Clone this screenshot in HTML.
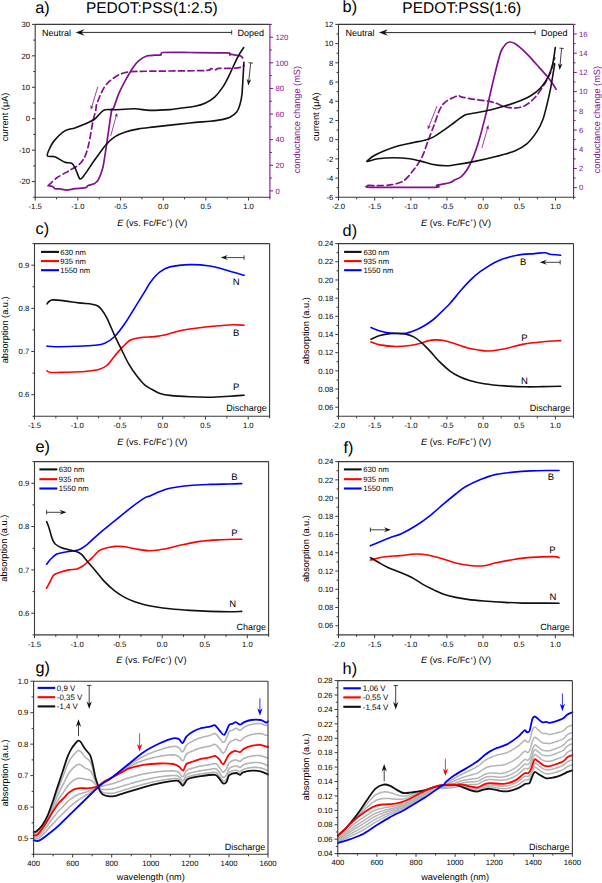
<!DOCTYPE html><html><head><meta charset="utf-8"><style>html,body{margin:0;padding:0;background:#fff;width:602px;height:883px;overflow:hidden}svg{display:block;text-rendering:geometricPrecision}</style></head><body>
<svg width="602" height="883" viewBox="0 0 602 883" font-family='"Liberation Sans", sans-serif'>
<rect width="602" height="883" fill="#fff"/>
<text x="35.2" y="13.1" font-size="16.3" text-anchor="start" fill="#000000" >a)</text>
<text x="151.8" y="13.3" font-size="15.5" text-anchor="middle" fill="#000000" >PEDOT:PSS(1:2.5)</text>
<path d="M49,185.7 C49.45,185.82 52.21,186.35 52.9,186.7 C53.59,187.05 54.07,188.44 54.9,188.7 C55.73,188.96 58.6,188.72 60,188.9 C61.4,189.08 65.16,190.22 66.9,190.2 C68.64,190.18 72.7,188.99 74.9,188.7 C77.11,188.41 84.3,188.05 85.8,187.7 C87.3,187.35 86.75,186.2 87.8,185.7 C88.85,185.2 93.52,184.21 94.8,183.4 C96.08,182.59 97.87,180.62 98.8,178.8 C99.73,176.98 101.98,171.17 102.8,167.8 C103.62,164.43 105.11,154.32 105.8,149.9 C106.49,145.48 108.01,134.56 108.7,129.9 C109.39,125.25 111.12,112.58 111.7,110 C112.28,107.42 112.88,109.69 113.7,107.8 C114.52,105.91 117.3,97.05 118.7,93.8 C120.1,90.55 124.07,82.92 125.7,79.9 C127.33,76.88 131.19,70.12 132.7,67.9 C134.2,65.68 136.98,62.29 138.6,60.9 C140.22,59.51 144.73,56.66 146.6,56 C148.47,55.34 152.92,55.33 154.6,55.2 C156.28,55.07 160.02,55.21 161,54.9 C161.98,54.59 159.63,52.78 163,52.5 C166.37,52.22 182.35,52.45 189.9,52.5 C197.45,52.55 223.06,52.62 227.7,52.9 C232.34,53.18 229.23,54.74 229.7,54.9 C230.17,55.06 230.77,54.23 231.7,54.3 C232.63,54.37 236.65,55.31 237.7,55.5 C238.75,55.69 240.12,55.62 240.7,55.9 C241.28,56.18 242.47,57.67 242.7,57.9" fill="none" stroke="#82108f" stroke-width="1.7" stroke-linejoin="round" stroke-linecap="round" />
<path d="M48,185.7 C49.19,184.65 54.11,179.79 56.9,177.8 C59.69,175.81 65.97,172.53 68.9,170.8 C71.83,169.07 76.78,166.67 78.9,164.8 C81.02,162.93 83.48,159.59 84.8,156.8 C86.12,154.01 87.73,148.54 88.8,143.9 C89.87,139.26 91.87,126.52 92.8,122 C93.73,117.48 95.27,112.43 95.8,110 C96.33,107.57 95.87,106.49 96.8,103.8 C97.73,101.11 101.21,92.72 102.8,89.8 C104.39,86.88 106.58,83.89 108.7,81.9 C110.82,79.91 116.03,76.23 118.7,74.9 C121.37,73.57 124.53,72.39 128.7,71.9 C132.87,71.41 139.83,71.39 150,71.2 C160.17,71.01 196.87,70.85 205,70.5 C213.13,70.15 209.67,68.68 211,68.6 C212.33,68.52 213.93,69.93 215,69.9 C216.07,69.87 216.33,68.63 219,68.4 C221.67,68.17 231.93,68.39 235,68.2 C238.07,68.01 240.8,67.35 242,67 C243.2,66.65 243.73,65.79 244,65.6" fill="none" stroke="#82108f" stroke-width="1.7" stroke-linejoin="round" stroke-linecap="round" stroke-dasharray="6,3.5" stroke-linecap="butt"/>
<path d="M243.7,47.5 C242.98,48.62 240.22,52.69 238.9,55 C237.58,57.31 236.4,59.77 234.9,62.9 C233.4,66.03 230.7,72.3 228.9,75.9 C227.1,79.5 225,83.77 222.9,86.9 C220.8,90.04 217.59,94.34 214.9,96.8 C212.22,99.26 207.99,101.88 205,103.3 C202.01,104.72 198.75,105.55 195,106.3 C191.25,107.05 183.75,107.8 180,108.3 C176.25,108.8 174.5,109.28 170,109.6 C165.5,109.91 155.3,110.52 150,110.4 C144.7,110.28 139.99,108.89 134.7,108.8 C129.41,108.71 119.34,109.59 114.7,109.8 C110.06,110.01 106.78,108.82 103.8,110.2 C100.81,111.58 97.65,116.93 94.8,119 C91.95,121.07 87.78,122.66 84.8,124 C81.81,125.34 77.89,126.87 74.9,127.9 C71.92,128.94 67.9,129.1 64.9,130.9 C61.9,132.7 57.15,137.35 54.9,139.9 C52.65,142.45 51.02,145.52 49.9,147.9 C48.77,150.28 46.65,154.47 47.4,155.8 C48.15,157.14 52.27,155.84 54.9,156.8 C57.52,157.76 62.35,161.21 64.9,162.2 C67.45,163.19 70.25,162.26 71.9,163.4 C73.55,164.54 74.72,167.49 75.9,169.8 C77.09,172.11 78.61,177.9 79.8,178.8 C80.98,179.7 81.55,178.65 83.8,175.8 C86.05,172.95 91.5,164.44 94.8,159.8 C98.1,155.17 102.81,148.34 105.8,144.9 C108.78,141.47 111.87,138.79 114.7,136.9 C117.53,135.01 121.12,133.5 124.7,132.3 C128.28,131.1 134.12,129.71 138.6,128.9 C143.08,128.09 146.91,127.79 154.6,126.9 C162.29,126.02 181.59,123.86 189.9,123 C198.21,122.14 205.19,121.71 210,121.2 C214.81,120.69 219,120.19 222,119.6 C225,119.01 227.76,118.47 230,117.3 C232.24,116.13 235.41,113.67 236.9,111.8 C238.39,109.92 239.15,107.35 239.9,104.8 C240.65,102.25 241.45,98.53 241.9,94.8 C242.35,91.06 242.6,84.76 242.9,79.9 C243.2,75.04 243.75,65.03 243.9,62.4" fill="none" stroke="#111111" stroke-width="1.6" stroke-linejoin="round" stroke-linecap="round" />
<line x1="97.8" y1="86.8" x2="91.72" y2="106.79" stroke="#82108f" stroke-width="0.8"/>
<path d="M90.8,109.8 L90.39,104.97 L91.72,106.79 L93.83,106.02 Z" fill="#82108f"/>
<line x1="110.7" y1="135.9" x2="116.26" y2="115.84" stroke="#82108f" stroke-width="0.8"/>
<path d="M117.1,112.8 L117.63,117.62 L116.26,115.84 L114.16,116.66 Z" fill="#82108f"/>
<line x1="250.7" y1="62.9" x2="248.78" y2="80.88" stroke="#111111" stroke-width="0.8"/>
<path d="M248.3,85.4 L246.7,78.69 L248.78,80.88 L251.28,79.18 Z" fill="#111111"/>
<line x1="252.89" y1="63.13" x2="248.51" y2="62.67" stroke="#111111" stroke-width="0.8"/>
<line x1="231.7" y1="32.4" x2="81" y2="32.4" stroke="#111111" stroke-width="0.9"/>
<path d="M75.6,32.4 L84.6,29.16 L81.45,32.4 L84.6,35.64 Z" fill="#111111"/>
<line x1="231.7" y1="30.2" x2="231.7" y2="34.6" stroke="#111111" stroke-width="0.8"/>
<text x="42" y="35.6" font-size="9" text-anchor="start" fill="#000000" >Neutral</text>
<text x="237.5" y="35.6" font-size="9" text-anchor="start" fill="#000000" >Doped</text>
<line x1="35.2" y1="24.4" x2="269.9" y2="24.4" stroke="#3a3a3a" stroke-width="1.1"/>
<line x1="35.2" y1="23.9" x2="35.2" y2="197.8" stroke="#3a3a3a" stroke-width="1.1"/>
<line x1="34.7" y1="197.3" x2="270.4" y2="197.3" stroke="#3a3a3a" stroke-width="1.1"/>
<line x1="269.9" y1="24.4" x2="269.9" y2="197.8" stroke="#82108f" stroke-width="1.1"/>
<line x1="35.2" y1="197.3" x2="35.2" y2="200.5" stroke="#3a3a3a" stroke-width="1.0"/>
<text x="35.2" y="208.9" font-size="7.7" text-anchor="middle" fill="#000000" >-1.5</text>
<line x1="77.87" y1="197.3" x2="77.87" y2="200.5" stroke="#3a3a3a" stroke-width="1.0"/>
<text x="77.87" y="208.9" font-size="7.7" text-anchor="middle" fill="#000000" >-1.0</text>
<line x1="120.55" y1="197.3" x2="120.55" y2="200.5" stroke="#3a3a3a" stroke-width="1.0"/>
<text x="120.55" y="208.9" font-size="7.7" text-anchor="middle" fill="#000000" >-0.5</text>
<line x1="163.22" y1="197.3" x2="163.22" y2="200.5" stroke="#3a3a3a" stroke-width="1.0"/>
<text x="163.22" y="208.9" font-size="7.7" text-anchor="middle" fill="#000000" >0.0</text>
<line x1="205.89" y1="197.3" x2="205.89" y2="200.5" stroke="#3a3a3a" stroke-width="1.0"/>
<text x="205.89" y="208.9" font-size="7.7" text-anchor="middle" fill="#000000" >0.5</text>
<line x1="248.56" y1="197.3" x2="248.56" y2="200.5" stroke="#3a3a3a" stroke-width="1.0"/>
<text x="248.56" y="208.9" font-size="7.7" text-anchor="middle" fill="#000000" >1.0</text>
<line x1="56.54" y1="197.3" x2="56.54" y2="199.3" stroke="#3a3a3a" stroke-width="1.0"/>
<line x1="99.21" y1="197.3" x2="99.21" y2="199.3" stroke="#3a3a3a" stroke-width="1.0"/>
<line x1="141.88" y1="197.3" x2="141.88" y2="199.3" stroke="#3a3a3a" stroke-width="1.0"/>
<line x1="184.55" y1="197.3" x2="184.55" y2="199.3" stroke="#3a3a3a" stroke-width="1.0"/>
<line x1="227.23" y1="197.3" x2="227.23" y2="199.3" stroke="#3a3a3a" stroke-width="1.0"/>
<line x1="269.9" y1="197.3" x2="269.9" y2="199.3" stroke="#3a3a3a" stroke-width="1.0"/>
<line x1="35.2" y1="181.58" x2="32" y2="181.58" stroke="#3a3a3a" stroke-width="1.0"/>
<text x="30" y="184.28" font-size="7.7" text-anchor="end" fill="#000000" >-20</text>
<line x1="35.2" y1="150.15" x2="32" y2="150.15" stroke="#3a3a3a" stroke-width="1.0"/>
<text x="30" y="152.85" font-size="7.7" text-anchor="end" fill="#000000" >-10</text>
<line x1="35.2" y1="118.71" x2="32" y2="118.71" stroke="#3a3a3a" stroke-width="1.0"/>
<text x="30" y="121.41" font-size="7.7" text-anchor="end" fill="#000000" >0</text>
<line x1="35.2" y1="87.27" x2="32" y2="87.27" stroke="#3a3a3a" stroke-width="1.0"/>
<text x="30" y="89.97" font-size="7.7" text-anchor="end" fill="#000000" >10</text>
<line x1="35.2" y1="55.84" x2="32" y2="55.84" stroke="#3a3a3a" stroke-width="1.0"/>
<text x="30" y="58.54" font-size="7.7" text-anchor="end" fill="#000000" >20</text>
<line x1="35.2" y1="24.4" x2="32" y2="24.4" stroke="#3a3a3a" stroke-width="1.0"/>
<text x="30" y="27.1" font-size="7.7" text-anchor="end" fill="#000000" >30</text>
<line x1="35.2" y1="197.3" x2="33.2" y2="197.3" stroke="#3a3a3a" stroke-width="1.0"/>
<line x1="35.2" y1="165.86" x2="33.2" y2="165.86" stroke="#3a3a3a" stroke-width="1.0"/>
<line x1="35.2" y1="134.43" x2="33.2" y2="134.43" stroke="#3a3a3a" stroke-width="1.0"/>
<line x1="35.2" y1="102.99" x2="33.2" y2="102.99" stroke="#3a3a3a" stroke-width="1.0"/>
<line x1="35.2" y1="71.55" x2="33.2" y2="71.55" stroke="#3a3a3a" stroke-width="1.0"/>
<line x1="35.2" y1="40.12" x2="33.2" y2="40.12" stroke="#3a3a3a" stroke-width="1.0"/>
<line x1="269.9" y1="190.9" x2="273.1" y2="190.9" stroke="#82108f" stroke-width="1.0"/>
<text x="275.4" y="193.6" font-size="7.7" text-anchor="start" fill="#82108f" >0</text>
<line x1="269.9" y1="165.28" x2="273.1" y2="165.28" stroke="#82108f" stroke-width="1.0"/>
<text x="275.4" y="167.98" font-size="7.7" text-anchor="start" fill="#82108f" >20</text>
<line x1="269.9" y1="139.67" x2="273.1" y2="139.67" stroke="#82108f" stroke-width="1.0"/>
<text x="275.4" y="142.37" font-size="7.7" text-anchor="start" fill="#82108f" >40</text>
<line x1="269.9" y1="114.05" x2="273.1" y2="114.05" stroke="#82108f" stroke-width="1.0"/>
<text x="275.4" y="116.75" font-size="7.7" text-anchor="start" fill="#82108f" >60</text>
<line x1="269.9" y1="88.44" x2="273.1" y2="88.44" stroke="#82108f" stroke-width="1.0"/>
<text x="275.4" y="91.14" font-size="7.7" text-anchor="start" fill="#82108f" >80</text>
<line x1="269.9" y1="62.82" x2="273.1" y2="62.82" stroke="#82108f" stroke-width="1.0"/>
<text x="275.4" y="65.52" font-size="7.7" text-anchor="start" fill="#82108f" >100</text>
<line x1="269.9" y1="37.21" x2="273.1" y2="37.21" stroke="#82108f" stroke-width="1.0"/>
<text x="275.4" y="39.91" font-size="7.7" text-anchor="start" fill="#82108f" >120</text>
<line x1="269.9" y1="178.09" x2="271.9" y2="178.09" stroke="#82108f" stroke-width="1.0"/>
<line x1="269.9" y1="152.47" x2="271.9" y2="152.47" stroke="#82108f" stroke-width="1.0"/>
<line x1="269.9" y1="126.86" x2="271.9" y2="126.86" stroke="#82108f" stroke-width="1.0"/>
<line x1="269.9" y1="101.24" x2="271.9" y2="101.24" stroke="#82108f" stroke-width="1.0"/>
<line x1="269.9" y1="75.63" x2="271.9" y2="75.63" stroke="#82108f" stroke-width="1.0"/>
<line x1="269.9" y1="50.01" x2="271.9" y2="50.01" stroke="#82108f" stroke-width="1.0"/>
<line x1="269.9" y1="24.4" x2="271.9" y2="24.4" stroke="#82108f" stroke-width="1.0"/>
<text x="7.8" y="117" font-size="9.2" text-anchor="middle" fill="#000000" transform="rotate(-90 7.8 117)">current (μA)</text>
<text x="299.6" y="119.6" font-size="9.2" text-anchor="middle" fill="#82108f" transform="rotate(-90 299.6 119.6)">conductance change (mS)</text>
<text x="152.3" y="225.8" font-size="9.2" text-anchor="middle" fill="#000000" ><tspan font-style="italic">E</tspan> (vs. Fc/Fc<tspan font-size="5.5" dy="-3.5">+</tspan><tspan dy="3.5">) (V)</tspan></text>
<text x="342.6" y="12.4" font-size="16.3" text-anchor="start" fill="#000000" >b)</text>
<text x="461.8" y="13.3" font-size="15.5" text-anchor="middle" fill="#000000" >PEDOT:PSS(1:6)</text>
<path d="M367.9,185.7 C368.13,185.89 361.99,187.11 369.9,187.3 C377.81,187.49 427.91,187.53 435.7,187.3 C443.49,187.07 435.08,185.83 436.7,185.3 C438.32,184.78 447.47,183.44 449.6,182.8 C451.74,182.16 453.67,180.5 455,179.8 C456.33,179.1 459.6,177.97 461,176.8 C462.4,175.63 465.61,172.02 467,169.8 C468.39,167.58 471.63,160.82 472.9,157.8 C474.17,154.78 476.85,147.16 477.9,143.9 C478.95,140.65 480.85,133.86 481.9,129.9 C482.95,125.95 486.08,113.51 486.9,110 C487.72,106.49 487.97,104.01 488.9,99.8 C489.83,95.59 493.51,79.49 494.9,73.9 C496.29,68.31 499.53,55.39 500.8,51.9 C502.07,48.41 504.75,45.16 505.8,44 C506.85,42.84 508.75,42.05 509.8,42 C510.85,41.95 513.28,42.68 514.8,43.6 C516.32,44.52 520.94,48.23 522.8,49.9 C524.65,51.57 528.85,55.92 530.7,57.9 C532.56,59.88 536.83,64.81 538.7,66.9 C540.57,68.99 545.07,73.83 546.7,75.8 C548.33,77.77 551.6,82.21 552.7,83.8 C553.8,85.39 555.7,88.75 556.1,89.4" fill="none" stroke="#82108f" stroke-width="1.7" stroke-linejoin="round" stroke-linecap="round" />
<path d="M367.9,185.3 C369.4,185.36 374.31,185.79 377.9,185.7 C381.48,185.61 387.92,185.43 391.8,184.7 C395.69,183.97 400.51,183.03 403.8,180.8 C407.09,178.57 411.01,173.25 413.7,169.8 C416.38,166.35 419.6,161.99 421.7,157.8 C423.8,153.62 425.9,146.67 427.7,141.9 C429.5,137.13 431.9,130.83 433.7,126 C435.5,121.17 437.91,113.33 439.7,109.7 C441.49,106.07 442.92,103.88 445.6,101.8 C448.29,99.72 455.29,96.55 457.6,95.8 C459.91,95.05 458.99,96.35 461,96.8 C463.01,97.25 467.42,98.2 471,98.8 C474.58,99.4 481.31,100.2 484.9,100.8 C488.48,101.4 491.91,101.91 494.9,102.8 C497.88,103.69 501.81,105.91 504.8,106.7 C507.79,107.5 511.8,108.25 514.8,108.1 C517.8,107.95 521.81,107.25 524.8,105.7 C527.78,104.16 531.72,101.08 534.7,97.8 C537.69,94.52 542.3,87.69 544.7,83.8 C547.1,79.91 549.2,75.79 550.7,71.9 C552.2,68.02 554.1,60 554.7,57.9" fill="none" stroke="#82108f" stroke-width="1.7" stroke-linejoin="round" stroke-linecap="round" stroke-dasharray="6,3.5" stroke-linecap="butt"/>
<path d="M555.3,47.5 C554.91,49.96 553.69,59.66 552.7,63.9 C551.71,68.14 550.5,72.22 548.7,75.8 C546.9,79.38 543.4,84.8 540.7,87.8 C538,90.8 534.59,93.55 530.7,95.8 C526.82,98.05 520.17,100.86 514.8,102.8 C509.43,104.73 500.88,107.17 494.9,108.7 C488.91,110.23 479.38,112.06 474.9,113 C470.41,113.94 467.99,113.65 465,115 C462.01,116.35 457.91,119.91 455,122 C452.09,124.09 448.8,126.67 445.6,128.9 C442.41,131.14 436.69,135.25 433.7,136.9 C430.71,138.55 428.7,139.06 425.7,139.9 C422.7,140.74 417.88,141.6 413.7,142.5 C409.51,143.4 402.29,144.64 397.8,145.9 C393.31,147.16 387.38,149.41 383.8,150.9 C380.22,152.39 376.44,154.23 373.9,155.8 C371.36,157.38 366.3,160.95 366.9,161.4 C367.5,161.85 373.86,159.34 377.9,158.8 C381.94,158.26 389.01,157.8 393.8,157.8 C398.59,157.8 405.62,158.26 409.8,158.8 C413.99,159.34 418.41,160.59 421.7,161.4 C424.99,162.21 428.12,163.54 431.7,164.2 C435.28,164.86 442.11,165.71 445.6,165.8 C449.1,165.89 450.61,165.46 455,164.8 C459.39,164.14 468.91,162.6 474.9,161.4 C480.88,160.2 488.91,158.38 494.9,156.8 C500.88,155.23 510.01,152.84 514.8,150.9 C519.58,148.97 523.51,146.75 526.8,143.9 C530.08,141.05 534.32,135.49 536.7,131.9 C539.09,128.31 541.2,123.93 542.7,120 C544.2,116.07 545.5,110.53 546.7,105.7 C547.9,100.87 549.5,94.07 550.7,87.8 C551.9,81.53 554.1,67.48 554.7,63.9" fill="none" stroke="#111111" stroke-width="1.6" stroke-linejoin="round" stroke-linecap="round" />
<line x1="437" y1="106" x2="428.86" y2="126.57" stroke="#82108f" stroke-width="0.8"/>
<path d="M427.7,129.5 L427.68,124.65 L428.86,126.57 L431.03,125.98 Z" fill="#82108f"/>
<line x1="481.9" y1="147.9" x2="487.63" y2="128.03" stroke="#82108f" stroke-width="0.8"/>
<path d="M488.5,125 L488.98,129.82 L487.63,128.03 L485.52,128.83 Z" fill="#82108f"/>
<line x1="561.6" y1="48.3" x2="560.02" y2="65.37" stroke="#111111" stroke-width="0.8"/>
<path d="M559.6,69.9 L557.91,63.22 L560.02,65.37 L562.49,63.64 Z" fill="#111111"/>
<line x1="563.79" y1="48.5" x2="559.41" y2="48.1" stroke="#111111" stroke-width="0.8"/>
<line x1="535.1" y1="32.6" x2="384.3" y2="32.6" stroke="#111111" stroke-width="0.9"/>
<path d="M378.9,32.6 L387.9,29.36 L384.75,32.6 L387.9,35.84 Z" fill="#111111"/>
<line x1="535.1" y1="30.4" x2="535.1" y2="34.8" stroke="#111111" stroke-width="0.8"/>
<text x="345.6" y="35.6" font-size="9" text-anchor="start" fill="#000000" >Neutral</text>
<text x="541.1" y="35.6" font-size="9" text-anchor="start" fill="#000000" >Doped</text>
<line x1="338.5" y1="24.4" x2="573.6" y2="24.4" stroke="#3a3a3a" stroke-width="1.1"/>
<line x1="338.5" y1="23.9" x2="338.5" y2="197.8" stroke="#3a3a3a" stroke-width="1.1"/>
<line x1="338" y1="197.3" x2="574.1" y2="197.3" stroke="#3a3a3a" stroke-width="1.1"/>
<line x1="573.6" y1="24.4" x2="573.6" y2="197.8" stroke="#82108f" stroke-width="1.1"/>
<line x1="338.5" y1="197.3" x2="338.5" y2="200.5" stroke="#3a3a3a" stroke-width="1.0"/>
<text x="338.5" y="208.9" font-size="7.7" text-anchor="middle" fill="#000000" >-2.0</text>
<line x1="374.67" y1="197.3" x2="374.67" y2="200.5" stroke="#3a3a3a" stroke-width="1.0"/>
<text x="374.67" y="208.9" font-size="7.7" text-anchor="middle" fill="#000000" >-1.5</text>
<line x1="410.84" y1="197.3" x2="410.84" y2="200.5" stroke="#3a3a3a" stroke-width="1.0"/>
<text x="410.84" y="208.9" font-size="7.7" text-anchor="middle" fill="#000000" >-1.0</text>
<line x1="447.01" y1="197.3" x2="447.01" y2="200.5" stroke="#3a3a3a" stroke-width="1.0"/>
<text x="447.01" y="208.9" font-size="7.7" text-anchor="middle" fill="#000000" >-0.5</text>
<line x1="483.18" y1="197.3" x2="483.18" y2="200.5" stroke="#3a3a3a" stroke-width="1.0"/>
<text x="483.18" y="208.9" font-size="7.7" text-anchor="middle" fill="#000000" >0.0</text>
<line x1="519.35" y1="197.3" x2="519.35" y2="200.5" stroke="#3a3a3a" stroke-width="1.0"/>
<text x="519.35" y="208.9" font-size="7.7" text-anchor="middle" fill="#000000" >0.5</text>
<line x1="555.52" y1="197.3" x2="555.52" y2="200.5" stroke="#3a3a3a" stroke-width="1.0"/>
<text x="555.52" y="208.9" font-size="7.7" text-anchor="middle" fill="#000000" >1.0</text>
<line x1="356.58" y1="197.3" x2="356.58" y2="199.3" stroke="#3a3a3a" stroke-width="1.0"/>
<line x1="392.75" y1="197.3" x2="392.75" y2="199.3" stroke="#3a3a3a" stroke-width="1.0"/>
<line x1="428.92" y1="197.3" x2="428.92" y2="199.3" stroke="#3a3a3a" stroke-width="1.0"/>
<line x1="465.09" y1="197.3" x2="465.09" y2="199.3" stroke="#3a3a3a" stroke-width="1.0"/>
<line x1="501.26" y1="197.3" x2="501.26" y2="199.3" stroke="#3a3a3a" stroke-width="1.0"/>
<line x1="537.43" y1="197.3" x2="537.43" y2="199.3" stroke="#3a3a3a" stroke-width="1.0"/>
<line x1="573.6" y1="197.3" x2="573.6" y2="199.3" stroke="#3a3a3a" stroke-width="1.0"/>
<line x1="338.5" y1="197.3" x2="335.3" y2="197.3" stroke="#3a3a3a" stroke-width="1.0"/>
<text x="333.3" y="200" font-size="7.7" text-anchor="end" fill="#000000" >-6</text>
<line x1="338.5" y1="178.09" x2="335.3" y2="178.09" stroke="#3a3a3a" stroke-width="1.0"/>
<text x="333.3" y="180.79" font-size="7.7" text-anchor="end" fill="#000000" >-4</text>
<line x1="338.5" y1="158.88" x2="335.3" y2="158.88" stroke="#3a3a3a" stroke-width="1.0"/>
<text x="333.3" y="161.58" font-size="7.7" text-anchor="end" fill="#000000" >-2</text>
<line x1="338.5" y1="139.67" x2="335.3" y2="139.67" stroke="#3a3a3a" stroke-width="1.0"/>
<text x="333.3" y="142.37" font-size="7.7" text-anchor="end" fill="#000000" >0</text>
<line x1="338.5" y1="120.46" x2="335.3" y2="120.46" stroke="#3a3a3a" stroke-width="1.0"/>
<text x="333.3" y="123.16" font-size="7.7" text-anchor="end" fill="#000000" >2</text>
<line x1="338.5" y1="101.24" x2="335.3" y2="101.24" stroke="#3a3a3a" stroke-width="1.0"/>
<text x="333.3" y="103.94" font-size="7.7" text-anchor="end" fill="#000000" >4</text>
<line x1="338.5" y1="82.03" x2="335.3" y2="82.03" stroke="#3a3a3a" stroke-width="1.0"/>
<text x="333.3" y="84.73" font-size="7.7" text-anchor="end" fill="#000000" >6</text>
<line x1="338.5" y1="62.82" x2="335.3" y2="62.82" stroke="#3a3a3a" stroke-width="1.0"/>
<text x="333.3" y="65.52" font-size="7.7" text-anchor="end" fill="#000000" >8</text>
<line x1="338.5" y1="43.61" x2="335.3" y2="43.61" stroke="#3a3a3a" stroke-width="1.0"/>
<text x="333.3" y="46.31" font-size="7.7" text-anchor="end" fill="#000000" >10</text>
<line x1="338.5" y1="24.4" x2="335.3" y2="24.4" stroke="#3a3a3a" stroke-width="1.0"/>
<text x="333.3" y="27.1" font-size="7.7" text-anchor="end" fill="#000000" >12</text>
<line x1="338.5" y1="187.69" x2="336.5" y2="187.69" stroke="#3a3a3a" stroke-width="1.0"/>
<line x1="338.5" y1="168.48" x2="336.5" y2="168.48" stroke="#3a3a3a" stroke-width="1.0"/>
<line x1="338.5" y1="149.27" x2="336.5" y2="149.27" stroke="#3a3a3a" stroke-width="1.0"/>
<line x1="338.5" y1="130.06" x2="336.5" y2="130.06" stroke="#3a3a3a" stroke-width="1.0"/>
<line x1="338.5" y1="110.85" x2="336.5" y2="110.85" stroke="#3a3a3a" stroke-width="1.0"/>
<line x1="338.5" y1="91.64" x2="336.5" y2="91.64" stroke="#3a3a3a" stroke-width="1.0"/>
<line x1="338.5" y1="72.43" x2="336.5" y2="72.43" stroke="#3a3a3a" stroke-width="1.0"/>
<line x1="338.5" y1="53.22" x2="336.5" y2="53.22" stroke="#3a3a3a" stroke-width="1.0"/>
<line x1="338.5" y1="34.01" x2="336.5" y2="34.01" stroke="#3a3a3a" stroke-width="1.0"/>
<line x1="573.6" y1="187.69" x2="576.8" y2="187.69" stroke="#82108f" stroke-width="1.0"/>
<text x="579.1" y="190.39" font-size="7.7" text-anchor="start" fill="#82108f" >0</text>
<line x1="573.6" y1="168.48" x2="576.8" y2="168.48" stroke="#82108f" stroke-width="1.0"/>
<text x="579.1" y="171.18" font-size="7.7" text-anchor="start" fill="#82108f" >2</text>
<line x1="573.6" y1="149.27" x2="576.8" y2="149.27" stroke="#82108f" stroke-width="1.0"/>
<text x="579.1" y="151.97" font-size="7.7" text-anchor="start" fill="#82108f" >4</text>
<line x1="573.6" y1="130.06" x2="576.8" y2="130.06" stroke="#82108f" stroke-width="1.0"/>
<text x="579.1" y="132.76" font-size="7.7" text-anchor="start" fill="#82108f" >6</text>
<line x1="573.6" y1="110.85" x2="576.8" y2="110.85" stroke="#82108f" stroke-width="1.0"/>
<text x="579.1" y="113.55" font-size="7.7" text-anchor="start" fill="#82108f" >8</text>
<line x1="573.6" y1="91.64" x2="576.8" y2="91.64" stroke="#82108f" stroke-width="1.0"/>
<text x="579.1" y="94.34" font-size="7.7" text-anchor="start" fill="#82108f" >10</text>
<line x1="573.6" y1="72.43" x2="576.8" y2="72.43" stroke="#82108f" stroke-width="1.0"/>
<text x="579.1" y="75.13" font-size="7.7" text-anchor="start" fill="#82108f" >12</text>
<line x1="573.6" y1="53.22" x2="576.8" y2="53.22" stroke="#82108f" stroke-width="1.0"/>
<text x="579.1" y="55.92" font-size="7.7" text-anchor="start" fill="#82108f" >14</text>
<line x1="573.6" y1="34.01" x2="576.8" y2="34.01" stroke="#82108f" stroke-width="1.0"/>
<text x="579.1" y="36.71" font-size="7.7" text-anchor="start" fill="#82108f" >16</text>
<line x1="573.6" y1="197.3" x2="575.6" y2="197.3" stroke="#82108f" stroke-width="1.0"/>
<line x1="573.6" y1="178.09" x2="575.6" y2="178.09" stroke="#82108f" stroke-width="1.0"/>
<line x1="573.6" y1="158.88" x2="575.6" y2="158.88" stroke="#82108f" stroke-width="1.0"/>
<line x1="573.6" y1="139.67" x2="575.6" y2="139.67" stroke="#82108f" stroke-width="1.0"/>
<line x1="573.6" y1="120.46" x2="575.6" y2="120.46" stroke="#82108f" stroke-width="1.0"/>
<line x1="573.6" y1="101.24" x2="575.6" y2="101.24" stroke="#82108f" stroke-width="1.0"/>
<line x1="573.6" y1="82.03" x2="575.6" y2="82.03" stroke="#82108f" stroke-width="1.0"/>
<line x1="573.6" y1="62.82" x2="575.6" y2="62.82" stroke="#82108f" stroke-width="1.0"/>
<line x1="573.6" y1="43.61" x2="575.6" y2="43.61" stroke="#82108f" stroke-width="1.0"/>
<line x1="573.6" y1="24.4" x2="575.6" y2="24.4" stroke="#82108f" stroke-width="1.0"/>
<text x="318.8" y="116.7" font-size="9.2" text-anchor="middle" fill="#000000" transform="rotate(-90 318.8 116.7)">current (μA)</text>
<text x="599.7" y="119.6" font-size="9.2" text-anchor="middle" fill="#82108f" transform="rotate(-90 599.7 119.6)">conductance change (mS)</text>
<text x="456" y="225.8" font-size="9.2" text-anchor="middle" fill="#000000" ><tspan font-style="italic">E</tspan> (vs. Fc/Fc<tspan font-size="5.5" dy="-3.5">+</tspan><tspan dy="3.5">) (V)</tspan></text>
<text x="35.5" y="234.3" font-size="16.3" text-anchor="start" fill="#000000" >c)</text>
<path d="M47,370.9 C47.67,371.17 48.02,372.27 51,372.5 C53.98,372.73 59.27,372.47 64.9,372.3 C70.53,372.13 79.15,371.97 84.8,371.5 C90.45,371.03 95.13,370.5 98.8,369.5 C102.47,368.5 104.15,367.77 106.8,365.5 C109.45,363.23 112.05,359 114.7,355.9 C117.35,352.8 120.03,349.55 122.7,346.9 C125.37,344.25 127.72,341.55 130.7,340 C133.68,338.45 136.62,338.17 140.6,337.6 C144.58,337.03 150.38,337.08 154.6,336.6 C158.82,336.12 161.68,335.68 165.9,334.7 C170.12,333.72 174.25,331.87 179.9,330.7 C185.55,329.53 193.15,328.53 199.8,327.7 C206.45,326.87 214.15,326.2 219.8,325.7 C225.45,325.2 229.65,324.77 233.7,324.7 C237.75,324.63 242.37,325.2 244.1,325.3" fill="none" stroke="#ff0000" stroke-width="1.6" stroke-linejoin="round" stroke-linecap="round" />
<path d="M47,346.1 C48.32,346.2 50.25,346.67 54.9,346.7 C59.55,346.73 68.25,346.53 74.9,346.3 C81.55,346.07 89.82,345.82 94.8,345.3 C99.78,344.78 101.48,344.67 104.8,343.2 C108.12,341.73 111.38,339.73 114.7,336.5 C118.02,333.27 121.37,328.58 124.7,323.8 C128.03,319.02 131.38,313.12 134.7,307.8 C138.02,302.48 141.95,296.22 144.6,291.9 C147.25,287.58 148.03,285.23 150.6,281.9 C153.17,278.57 156.78,274.4 160,271.9 C163.22,269.4 164.92,268.12 169.9,266.9 C174.88,265.68 183.25,264.75 189.9,264.6 C196.55,264.45 203.83,265.12 209.8,266 C215.77,266.88 219.98,268.35 225.7,269.9 C231.42,271.45 241.03,274.4 244.1,275.3" fill="none" stroke="#0000ff" stroke-width="1.6" stroke-linejoin="round" stroke-linecap="round" />
<path d="M47,303.9 C47.33,303.5 48.02,302.17 49,301.5 C49.98,300.83 50.25,300 52.9,299.9 C55.55,299.8 60.57,300.4 64.9,300.9 C69.23,301.4 74.38,302.35 78.9,302.9 C83.42,303.45 88.9,303.72 92,304.2 C95.1,304.68 95.92,304.92 97.5,305.8 C99.08,306.68 99.95,307.5 101.5,309.5 C103.05,311.5 104.6,313.43 106.8,317.8 C109,322.17 112.38,330.68 114.7,335.7 C117.02,340.72 118.37,343.2 120.7,347.9 C123.03,352.6 126.03,359.25 128.7,363.9 C131.37,368.55 134.05,372.32 136.7,375.8 C139.35,379.28 141.62,382.3 144.6,384.8 C147.58,387.3 152.03,389.37 154.6,390.8 C157.17,392.23 157.45,392.63 160,393.4 C162.55,394.17 164.92,394.83 169.9,395.4 C174.88,395.97 183.25,396.5 189.9,396.8 C196.55,397.1 203.17,397.3 209.8,397.2 C216.43,397.1 223.98,396.53 229.7,396.2 C235.42,395.87 241.7,395.37 244.1,395.2" fill="none" stroke="#111111" stroke-width="1.6" stroke-linejoin="round" stroke-linecap="round" />
<line x1="41" y1="251.9" x2="59" y2="251.9" stroke="#111111" stroke-width="2.1"/>
<text x="60.2" y="254.6" font-size="7.7" text-anchor="start" fill="#000000" >630 nm</text>
<line x1="41" y1="261.1" x2="59" y2="261.1" stroke="#ff0000" stroke-width="2.1"/>
<text x="60.2" y="263.8" font-size="7.7" text-anchor="start" fill="#000000" >935 nm</text>
<line x1="41" y1="270.2" x2="59" y2="270.2" stroke="#0000ff" stroke-width="2.1"/>
<text x="60.2" y="272.9" font-size="7.7" text-anchor="start" fill="#000000" >1550 nm</text>
<line x1="244.1" y1="257.6" x2="225" y2="257.6" stroke="#111111" stroke-width="0.8"/>
<path d="M220.8,257.6 L227.8,255.08 L225.35,257.6 L227.8,260.12 Z" fill="#111111"/>
<line x1="244.1" y1="255.4" x2="244.1" y2="259.8" stroke="#111111" stroke-width="0.8"/>
<text x="236.1" y="285.3" font-size="9.5" text-anchor="middle" fill="#000000" >N</text>
<text x="236.1" y="336.4" font-size="9.5" text-anchor="middle" fill="#000000" >B</text>
<text x="236.1" y="390.2" font-size="9.5" text-anchor="middle" fill="#000000" >P</text>
<text x="266.8" y="411.1" font-size="9" text-anchor="end" fill="#000000" >Discharge</text>
<line x1="34.5" y1="243.6" x2="269.6" y2="243.6" stroke="#3a3a3a" stroke-width="1.1"/>
<line x1="34.5" y1="243.1" x2="34.5" y2="416.8" stroke="#3a3a3a" stroke-width="1.1"/>
<line x1="34" y1="416.3" x2="270.1" y2="416.3" stroke="#3a3a3a" stroke-width="1.1"/>
<line x1="269.6" y1="243.6" x2="269.6" y2="416.3" stroke="#3a3a3a" stroke-width="1.1"/>
<line x1="34.5" y1="416.3" x2="34.5" y2="419.5" stroke="#3a3a3a" stroke-width="1.0"/>
<text x="34.5" y="427.9" font-size="7.7" text-anchor="middle" fill="#000000" >-1.5</text>
<line x1="77.25" y1="416.3" x2="77.25" y2="419.5" stroke="#3a3a3a" stroke-width="1.0"/>
<text x="77.25" y="427.9" font-size="7.7" text-anchor="middle" fill="#000000" >-1.0</text>
<line x1="119.99" y1="416.3" x2="119.99" y2="419.5" stroke="#3a3a3a" stroke-width="1.0"/>
<text x="119.99" y="427.9" font-size="7.7" text-anchor="middle" fill="#000000" >-0.5</text>
<line x1="162.74" y1="416.3" x2="162.74" y2="419.5" stroke="#3a3a3a" stroke-width="1.0"/>
<text x="162.74" y="427.9" font-size="7.7" text-anchor="middle" fill="#000000" >0.0</text>
<line x1="205.48" y1="416.3" x2="205.48" y2="419.5" stroke="#3a3a3a" stroke-width="1.0"/>
<text x="205.48" y="427.9" font-size="7.7" text-anchor="middle" fill="#000000" >0.5</text>
<line x1="248.23" y1="416.3" x2="248.23" y2="419.5" stroke="#3a3a3a" stroke-width="1.0"/>
<text x="248.23" y="427.9" font-size="7.7" text-anchor="middle" fill="#000000" >1.0</text>
<line x1="55.87" y1="416.3" x2="55.87" y2="418.3" stroke="#3a3a3a" stroke-width="1.0"/>
<line x1="98.62" y1="416.3" x2="98.62" y2="418.3" stroke="#3a3a3a" stroke-width="1.0"/>
<line x1="141.36" y1="416.3" x2="141.36" y2="418.3" stroke="#3a3a3a" stroke-width="1.0"/>
<line x1="184.11" y1="416.3" x2="184.11" y2="418.3" stroke="#3a3a3a" stroke-width="1.0"/>
<line x1="226.85" y1="416.3" x2="226.85" y2="418.3" stroke="#3a3a3a" stroke-width="1.0"/>
<line x1="269.6" y1="416.3" x2="269.6" y2="418.3" stroke="#3a3a3a" stroke-width="1.0"/>
<line x1="34.5" y1="394.71" x2="31.3" y2="394.71" stroke="#3a3a3a" stroke-width="1.0"/>
<text x="29.3" y="397.41" font-size="7.7" text-anchor="end" fill="#000000" >0.6</text>
<line x1="34.5" y1="351.54" x2="31.3" y2="351.54" stroke="#3a3a3a" stroke-width="1.0"/>
<text x="29.3" y="354.24" font-size="7.7" text-anchor="end" fill="#000000" >0.7</text>
<line x1="34.5" y1="308.36" x2="31.3" y2="308.36" stroke="#3a3a3a" stroke-width="1.0"/>
<text x="29.3" y="311.06" font-size="7.7" text-anchor="end" fill="#000000" >0.8</text>
<line x1="34.5" y1="265.19" x2="31.3" y2="265.19" stroke="#3a3a3a" stroke-width="1.0"/>
<text x="29.3" y="267.89" font-size="7.7" text-anchor="end" fill="#000000" >0.9</text>
<line x1="34.5" y1="416.3" x2="32.5" y2="416.3" stroke="#3a3a3a" stroke-width="1.0"/>
<line x1="34.5" y1="373.12" x2="32.5" y2="373.12" stroke="#3a3a3a" stroke-width="1.0"/>
<line x1="34.5" y1="329.95" x2="32.5" y2="329.95" stroke="#3a3a3a" stroke-width="1.0"/>
<line x1="34.5" y1="286.77" x2="32.5" y2="286.77" stroke="#3a3a3a" stroke-width="1.0"/>
<line x1="34.5" y1="243.6" x2="32.5" y2="243.6" stroke="#3a3a3a" stroke-width="1.0"/>
<text x="7.8" y="329.9" font-size="9.2" text-anchor="middle" fill="#000000" transform="rotate(-90 7.8 329.9)">absorption (a.u.)</text>
<text x="152.3" y="444.8" font-size="9.2" text-anchor="middle" fill="#000000" ><tspan font-style="italic">E</tspan> (vs. Fc/Fc<tspan font-size="5.5" dy="-3.5">+</tspan><tspan dy="3.5">) (V)</tspan></text>
<text x="342.6" y="236.3" font-size="16.3" text-anchor="start" fill="#000000" >d)</text>
<path d="M371,341.9 C372.48,342.4 375.75,344.13 379.9,344.9 C384.05,345.67 390.92,346.4 395.9,346.5 C400.88,346.6 405.82,346 409.8,345.5 C413.78,345 416.8,344.27 419.8,343.5 C422.8,342.73 425.15,341.5 427.8,340.9 C430.45,340.3 433.05,339.97 435.7,339.9 C438.35,339.83 440.37,339.83 443.7,340.5 C447.03,341.17 451.72,342.67 455.7,343.9 C459.68,345.13 463.77,346.88 467.6,347.9 C471.43,348.92 475.1,349.48 478.7,350 C482.3,350.52 484.83,351.2 489.2,351 C493.57,350.8 499.38,349.9 504.9,348.8 C510.42,347.7 515.9,345.57 522.3,344.4 C528.7,343.23 536.9,342.43 543.3,341.8 C549.7,341.17 557.8,340.8 560.7,340.6" fill="none" stroke="#ff0000" stroke-width="1.6" stroke-linejoin="round" stroke-linecap="round" />
<path d="M371,327.6 C372.48,328.17 376.75,330.1 379.9,331 C383.05,331.9 385.9,332.57 389.9,333 C393.9,333.43 399.58,334.1 403.9,333.6 C408.22,333.1 412.48,331.27 415.8,330 C419.12,328.73 420.97,327.67 423.8,326 C426.63,324.33 430.15,322.05 432.8,320 C435.45,317.95 436.88,316.4 439.7,313.7 C442.52,311 446.37,307.45 449.7,303.8 C453.03,300.15 456.38,295.62 459.7,291.8 C463.02,287.98 466.13,284.3 469.6,280.9 C473.07,277.5 475.78,274.73 480.5,271.4 C485.22,268.07 491.8,263.58 497.9,260.9 C504,258.22 511,256.52 517.1,255.3 C523.2,254.08 529.85,254.03 534.5,253.6 C539.15,253.17 542.38,252.58 545,252.7 C547.62,252.82 547.58,253.88 550.2,254.3 C552.82,254.72 558.95,255.05 560.7,255.2" fill="none" stroke="#0000ff" stroke-width="1.6" stroke-linejoin="round" stroke-linecap="round" />
<path d="M371,339.3 C372.48,338.67 376.75,336.45 379.9,335.5 C383.05,334.55 385.9,333.92 389.9,333.6 C393.9,333.28 399.92,333.05 403.9,333.6 C407.88,334.15 410.82,335.35 413.8,336.9 C416.78,338.45 419.13,340.57 421.8,342.9 C424.47,345.23 426.82,347.73 429.8,350.9 C432.78,354.07 436.38,358.58 439.7,361.9 C443.02,365.22 446.37,368.32 449.7,370.8 C453.03,373.28 456.38,375.2 459.7,376.8 C463.02,378.4 465.55,379.25 469.6,380.4 C473.65,381.55 478.12,382.78 484,383.7 C489.88,384.62 497.93,385.38 504.9,385.9 C511.87,386.42 519.4,386.68 525.8,386.8 C532.2,386.92 537.48,386.68 543.3,386.6 C549.12,386.52 557.8,386.35 560.7,386.3" fill="none" stroke="#111111" stroke-width="1.6" stroke-linejoin="round" stroke-linecap="round" />
<line x1="344.1" y1="251.9" x2="361.6" y2="251.9" stroke="#111111" stroke-width="2.1"/>
<text x="363.4" y="254.6" font-size="7.7" text-anchor="start" fill="#000000" >630 nm</text>
<line x1="344.1" y1="261.1" x2="361.6" y2="261.1" stroke="#ff0000" stroke-width="2.1"/>
<text x="363.4" y="263.8" font-size="7.7" text-anchor="start" fill="#000000" >935 nm</text>
<line x1="344.1" y1="270.2" x2="361.6" y2="270.2" stroke="#0000ff" stroke-width="2.1"/>
<text x="363.4" y="272.9" font-size="7.7" text-anchor="start" fill="#000000" >1550 nm</text>
<line x1="560.2" y1="262.3" x2="544" y2="262.3" stroke="#111111" stroke-width="0.8"/>
<path d="M539.8,262.3 L546.8,259.78 L544.35,262.3 L546.8,264.82 Z" fill="#111111"/>
<line x1="560.2" y1="260.1" x2="560.2" y2="264.5" stroke="#111111" stroke-width="0.8"/>
<text x="523.2" y="265.2" font-size="9.5" text-anchor="middle" fill="#000000" >B</text>
<text x="524.4" y="340.8" font-size="9.5" text-anchor="middle" fill="#000000" >P</text>
<text x="524.4" y="384.4" font-size="9.5" text-anchor="middle" fill="#000000" >N</text>
<text x="570.3" y="411.1" font-size="9" text-anchor="end" fill="#000000" >Discharge</text>
<line x1="338.5" y1="243.6" x2="573.5" y2="243.6" stroke="#3a3a3a" stroke-width="1.1"/>
<line x1="338.5" y1="243.1" x2="338.5" y2="416.8" stroke="#3a3a3a" stroke-width="1.1"/>
<line x1="338" y1="416.3" x2="574" y2="416.3" stroke="#3a3a3a" stroke-width="1.1"/>
<line x1="573.5" y1="243.6" x2="573.5" y2="416.3" stroke="#3a3a3a" stroke-width="1.1"/>
<line x1="338.5" y1="416.3" x2="338.5" y2="419.5" stroke="#3a3a3a" stroke-width="1.0"/>
<text x="338.5" y="427.9" font-size="7.7" text-anchor="middle" fill="#000000" >-2.0</text>
<line x1="374.65" y1="416.3" x2="374.65" y2="419.5" stroke="#3a3a3a" stroke-width="1.0"/>
<text x="374.65" y="427.9" font-size="7.7" text-anchor="middle" fill="#000000" >-1.5</text>
<line x1="410.81" y1="416.3" x2="410.81" y2="419.5" stroke="#3a3a3a" stroke-width="1.0"/>
<text x="410.81" y="427.9" font-size="7.7" text-anchor="middle" fill="#000000" >-1.0</text>
<line x1="446.96" y1="416.3" x2="446.96" y2="419.5" stroke="#3a3a3a" stroke-width="1.0"/>
<text x="446.96" y="427.9" font-size="7.7" text-anchor="middle" fill="#000000" >-0.5</text>
<line x1="483.12" y1="416.3" x2="483.12" y2="419.5" stroke="#3a3a3a" stroke-width="1.0"/>
<text x="483.12" y="427.9" font-size="7.7" text-anchor="middle" fill="#000000" >0.0</text>
<line x1="519.27" y1="416.3" x2="519.27" y2="419.5" stroke="#3a3a3a" stroke-width="1.0"/>
<text x="519.27" y="427.9" font-size="7.7" text-anchor="middle" fill="#000000" >0.5</text>
<line x1="555.42" y1="416.3" x2="555.42" y2="419.5" stroke="#3a3a3a" stroke-width="1.0"/>
<text x="555.42" y="427.9" font-size="7.7" text-anchor="middle" fill="#000000" >1.0</text>
<line x1="356.58" y1="416.3" x2="356.58" y2="418.3" stroke="#3a3a3a" stroke-width="1.0"/>
<line x1="392.73" y1="416.3" x2="392.73" y2="418.3" stroke="#3a3a3a" stroke-width="1.0"/>
<line x1="428.88" y1="416.3" x2="428.88" y2="418.3" stroke="#3a3a3a" stroke-width="1.0"/>
<line x1="465.04" y1="416.3" x2="465.04" y2="418.3" stroke="#3a3a3a" stroke-width="1.0"/>
<line x1="501.19" y1="416.3" x2="501.19" y2="418.3" stroke="#3a3a3a" stroke-width="1.0"/>
<line x1="537.35" y1="416.3" x2="537.35" y2="418.3" stroke="#3a3a3a" stroke-width="1.0"/>
<line x1="573.5" y1="416.3" x2="573.5" y2="418.3" stroke="#3a3a3a" stroke-width="1.0"/>
<line x1="338.5" y1="407.21" x2="335.3" y2="407.21" stroke="#3a3a3a" stroke-width="1.0"/>
<text x="333.3" y="409.91" font-size="7.7" text-anchor="end" fill="#000000" >0.06</text>
<line x1="338.5" y1="389.03" x2="335.3" y2="389.03" stroke="#3a3a3a" stroke-width="1.0"/>
<text x="333.3" y="391.73" font-size="7.7" text-anchor="end" fill="#000000" >0.08</text>
<line x1="338.5" y1="370.85" x2="335.3" y2="370.85" stroke="#3a3a3a" stroke-width="1.0"/>
<text x="333.3" y="373.55" font-size="7.7" text-anchor="end" fill="#000000" >0.10</text>
<line x1="338.5" y1="352.67" x2="335.3" y2="352.67" stroke="#3a3a3a" stroke-width="1.0"/>
<text x="333.3" y="355.37" font-size="7.7" text-anchor="end" fill="#000000" >0.12</text>
<line x1="338.5" y1="334.49" x2="335.3" y2="334.49" stroke="#3a3a3a" stroke-width="1.0"/>
<text x="333.3" y="337.19" font-size="7.7" text-anchor="end" fill="#000000" >0.14</text>
<line x1="338.5" y1="316.32" x2="335.3" y2="316.32" stroke="#3a3a3a" stroke-width="1.0"/>
<text x="333.3" y="319.02" font-size="7.7" text-anchor="end" fill="#000000" >0.16</text>
<line x1="338.5" y1="298.14" x2="335.3" y2="298.14" stroke="#3a3a3a" stroke-width="1.0"/>
<text x="333.3" y="300.84" font-size="7.7" text-anchor="end" fill="#000000" >0.18</text>
<line x1="338.5" y1="279.96" x2="335.3" y2="279.96" stroke="#3a3a3a" stroke-width="1.0"/>
<text x="333.3" y="282.66" font-size="7.7" text-anchor="end" fill="#000000" >0.20</text>
<line x1="338.5" y1="261.78" x2="335.3" y2="261.78" stroke="#3a3a3a" stroke-width="1.0"/>
<text x="333.3" y="264.48" font-size="7.7" text-anchor="end" fill="#000000" >0.22</text>
<line x1="338.5" y1="243.6" x2="335.3" y2="243.6" stroke="#3a3a3a" stroke-width="1.0"/>
<text x="333.3" y="246.3" font-size="7.7" text-anchor="end" fill="#000000" >0.24</text>
<line x1="338.5" y1="416.3" x2="336.5" y2="416.3" stroke="#3a3a3a" stroke-width="1.0"/>
<line x1="338.5" y1="398.12" x2="336.5" y2="398.12" stroke="#3a3a3a" stroke-width="1.0"/>
<line x1="338.5" y1="379.94" x2="336.5" y2="379.94" stroke="#3a3a3a" stroke-width="1.0"/>
<line x1="338.5" y1="361.76" x2="336.5" y2="361.76" stroke="#3a3a3a" stroke-width="1.0"/>
<line x1="338.5" y1="343.58" x2="336.5" y2="343.58" stroke="#3a3a3a" stroke-width="1.0"/>
<line x1="338.5" y1="325.41" x2="336.5" y2="325.41" stroke="#3a3a3a" stroke-width="1.0"/>
<line x1="338.5" y1="307.23" x2="336.5" y2="307.23" stroke="#3a3a3a" stroke-width="1.0"/>
<line x1="338.5" y1="289.05" x2="336.5" y2="289.05" stroke="#3a3a3a" stroke-width="1.0"/>
<line x1="338.5" y1="270.87" x2="336.5" y2="270.87" stroke="#3a3a3a" stroke-width="1.0"/>
<line x1="338.5" y1="252.69" x2="336.5" y2="252.69" stroke="#3a3a3a" stroke-width="1.0"/>
<text x="309.4" y="330.7" font-size="9.2" text-anchor="middle" fill="#000000" transform="rotate(-90 309.4 330.7)">absorption (a.u.)</text>
<text x="456" y="444.8" font-size="9.2" text-anchor="middle" fill="#000000" ><tspan font-style="italic">E</tspan> (vs. Fc/Fc<tspan font-size="5.5" dy="-3.5">+</tspan><tspan dy="3.5">) (V)</tspan></text>
<text x="35.5" y="451.8" font-size="16.3" text-anchor="start" fill="#000000" >e)</text>
<path d="M46.6,588.3 C47.17,587.23 48.78,584.13 50,581.9 C51.22,579.67 52.08,576.57 53.9,574.9 C55.72,573.23 58.4,572.73 60.9,571.9 C63.4,571.07 66.23,570.4 68.9,569.9 C71.57,569.4 74.58,569.55 76.9,568.9 C79.22,568.25 80.82,567.32 82.8,566 C84.78,564.68 86.8,562.83 88.8,561 C90.8,559.17 92.8,556.87 94.8,555 C96.8,553.13 97.48,551.23 100.8,549.8 C104.12,548.37 110.72,546.9 114.7,546.4 C118.68,545.9 120.72,546.3 124.7,546.8 C128.68,547.3 134.38,548.75 138.6,549.4 C142.82,550.05 145.45,550.82 150,550.7 C154.55,550.58 160.92,549.6 165.9,548.7 C170.88,547.8 174.25,546.52 179.9,545.3 C185.55,544.08 193.15,542.32 199.8,541.4 C206.45,540.48 212.82,540.17 219.8,539.8 C226.78,539.43 238.05,539.3 241.7,539.2" fill="none" stroke="#ff0000" stroke-width="1.6" stroke-linejoin="round" stroke-linecap="round" />
<path d="M46.6,564.2 C47.33,563.3 49.28,560.48 51,558.8 C52.72,557.12 54.25,555.27 56.9,554.1 C59.55,552.93 63.23,552.52 66.9,551.8 C70.57,551.08 75.58,550.97 78.9,549.8 C82.22,548.63 83.48,547.47 86.8,544.8 C90.12,542.13 94.15,537.78 98.8,533.8 C103.45,529.82 109.38,525.22 114.7,520.9 C120.02,516.58 125.72,511.73 130.7,507.9 C135.68,504.07 141.38,499.9 144.6,497.9 C147.82,495.9 147.43,496.97 150,495.9 C152.57,494.83 156.68,492.77 160,491.5 C163.32,490.23 164.92,489.3 169.9,488.3 C174.88,487.3 183.25,486.15 189.9,485.5 C196.55,484.85 203.17,484.65 209.8,484.4 C216.43,484.15 224.38,484.13 229.7,484 C235.02,483.87 239.7,483.67 241.7,483.6" fill="none" stroke="#0000ff" stroke-width="1.6" stroke-linejoin="round" stroke-linecap="round" />
<path d="M46.6,521.5 C47,522.55 48.12,525.08 49,527.8 C49.88,530.52 50.92,535.13 51.9,537.8 C52.88,540.47 53.4,542.2 54.9,543.8 C56.4,545.4 58.57,546.4 60.9,547.4 C63.23,548.4 66.23,549.07 68.9,549.8 C71.57,550.53 74.75,550.98 76.9,551.8 C79.05,552.62 80.15,553.22 81.8,554.7 C83.45,556.18 84.63,558.17 86.8,560.7 C88.97,563.23 91.8,566.37 94.8,569.9 C97.8,573.43 101.48,578.4 104.8,581.9 C108.12,585.4 111.38,588.32 114.7,590.9 C118.02,593.48 121.37,595.58 124.7,597.4 C128.03,599.22 131.38,600.57 134.7,601.8 C138.02,603.03 141.22,603.97 144.6,604.8 C147.98,605.63 150.78,606.13 155,606.8 C159.22,607.47 164.08,608.2 169.9,608.8 C175.72,609.4 183.25,609.97 189.9,610.4 C196.55,610.83 203.17,611.17 209.8,611.4 C216.43,611.63 224.38,611.8 229.7,611.8 C235.02,611.8 239.7,611.47 241.7,611.4" fill="none" stroke="#111111" stroke-width="1.6" stroke-linejoin="round" stroke-linecap="round" />
<line x1="39.4" y1="469.4" x2="57.3" y2="469.4" stroke="#111111" stroke-width="2.1"/>
<text x="58.8" y="472.1" font-size="7.7" text-anchor="start" fill="#000000" >630 nm</text>
<line x1="39.4" y1="479.2" x2="57.3" y2="479.2" stroke="#ff0000" stroke-width="2.1"/>
<text x="58.8" y="481.9" font-size="7.7" text-anchor="start" fill="#000000" >935 nm</text>
<line x1="39.4" y1="488.5" x2="57.3" y2="488.5" stroke="#0000ff" stroke-width="2.1"/>
<text x="58.8" y="491.2" font-size="7.7" text-anchor="start" fill="#000000" >1550 nm</text>
<line x1="46.6" y1="512.3" x2="62.3" y2="512.3" stroke="#111111" stroke-width="0.8"/>
<path d="M66.5,512.3 L59.5,509.78 L61.95,512.3 L59.5,514.82 Z" fill="#111111"/>
<line x1="46.6" y1="510.1" x2="46.6" y2="514.5" stroke="#111111" stroke-width="0.8"/>
<text x="234.3" y="479.8" font-size="9.5" text-anchor="middle" fill="#000000" >B</text>
<text x="234.3" y="535.6" font-size="9.5" text-anchor="middle" fill="#000000" >P</text>
<text x="232.7" y="606.8" font-size="9.5" text-anchor="middle" fill="#000000" >N</text>
<text x="266" y="629.9" font-size="9" text-anchor="end" fill="#000000" >Charge</text>
<line x1="34.5" y1="461.6" x2="268.6" y2="461.6" stroke="#3a3a3a" stroke-width="1.1"/>
<line x1="34.5" y1="461.1" x2="34.5" y2="635.4" stroke="#3a3a3a" stroke-width="1.1"/>
<line x1="34" y1="634.9" x2="269.1" y2="634.9" stroke="#3a3a3a" stroke-width="1.1"/>
<line x1="268.6" y1="461.6" x2="268.6" y2="634.9" stroke="#3a3a3a" stroke-width="1.1"/>
<line x1="34.5" y1="634.9" x2="34.5" y2="638.1" stroke="#3a3a3a" stroke-width="1.0"/>
<text x="34.5" y="646.5" font-size="7.7" text-anchor="middle" fill="#000000" >-1.5</text>
<line x1="77.06" y1="634.9" x2="77.06" y2="638.1" stroke="#3a3a3a" stroke-width="1.0"/>
<text x="77.06" y="646.5" font-size="7.7" text-anchor="middle" fill="#000000" >-1.0</text>
<line x1="119.63" y1="634.9" x2="119.63" y2="638.1" stroke="#3a3a3a" stroke-width="1.0"/>
<text x="119.63" y="646.5" font-size="7.7" text-anchor="middle" fill="#000000" >-0.5</text>
<line x1="162.19" y1="634.9" x2="162.19" y2="638.1" stroke="#3a3a3a" stroke-width="1.0"/>
<text x="162.19" y="646.5" font-size="7.7" text-anchor="middle" fill="#000000" >0.0</text>
<line x1="204.75" y1="634.9" x2="204.75" y2="638.1" stroke="#3a3a3a" stroke-width="1.0"/>
<text x="204.75" y="646.5" font-size="7.7" text-anchor="middle" fill="#000000" >0.5</text>
<line x1="247.32" y1="634.9" x2="247.32" y2="638.1" stroke="#3a3a3a" stroke-width="1.0"/>
<text x="247.32" y="646.5" font-size="7.7" text-anchor="middle" fill="#000000" >1.0</text>
<line x1="55.78" y1="634.9" x2="55.78" y2="636.9" stroke="#3a3a3a" stroke-width="1.0"/>
<line x1="98.35" y1="634.9" x2="98.35" y2="636.9" stroke="#3a3a3a" stroke-width="1.0"/>
<line x1="140.91" y1="634.9" x2="140.91" y2="636.9" stroke="#3a3a3a" stroke-width="1.0"/>
<line x1="183.47" y1="634.9" x2="183.47" y2="636.9" stroke="#3a3a3a" stroke-width="1.0"/>
<line x1="226.04" y1="634.9" x2="226.04" y2="636.9" stroke="#3a3a3a" stroke-width="1.0"/>
<line x1="268.6" y1="634.9" x2="268.6" y2="636.9" stroke="#3a3a3a" stroke-width="1.0"/>
<line x1="34.5" y1="613.24" x2="31.3" y2="613.24" stroke="#3a3a3a" stroke-width="1.0"/>
<text x="29.3" y="615.94" font-size="7.7" text-anchor="end" fill="#000000" >0.6</text>
<line x1="34.5" y1="569.91" x2="31.3" y2="569.91" stroke="#3a3a3a" stroke-width="1.0"/>
<text x="29.3" y="572.61" font-size="7.7" text-anchor="end" fill="#000000" >0.7</text>
<line x1="34.5" y1="526.59" x2="31.3" y2="526.59" stroke="#3a3a3a" stroke-width="1.0"/>
<text x="29.3" y="529.29" font-size="7.7" text-anchor="end" fill="#000000" >0.8</text>
<line x1="34.5" y1="483.26" x2="31.3" y2="483.26" stroke="#3a3a3a" stroke-width="1.0"/>
<text x="29.3" y="485.96" font-size="7.7" text-anchor="end" fill="#000000" >0.9</text>
<line x1="34.5" y1="634.9" x2="32.5" y2="634.9" stroke="#3a3a3a" stroke-width="1.0"/>
<line x1="34.5" y1="591.58" x2="32.5" y2="591.58" stroke="#3a3a3a" stroke-width="1.0"/>
<line x1="34.5" y1="548.25" x2="32.5" y2="548.25" stroke="#3a3a3a" stroke-width="1.0"/>
<line x1="34.5" y1="504.92" x2="32.5" y2="504.92" stroke="#3a3a3a" stroke-width="1.0"/>
<line x1="34.5" y1="461.6" x2="32.5" y2="461.6" stroke="#3a3a3a" stroke-width="1.0"/>
<text x="7.2" y="548.2" font-size="9.2" text-anchor="middle" fill="#000000" transform="rotate(-90 7.2 548.2)">absorption (a.u.)</text>
<text x="151.4" y="663.2" font-size="9.2" text-anchor="middle" fill="#000000" ><tspan font-style="italic">E</tspan> (vs. Fc/Fc<tspan font-size="5.5" dy="-3.5">+</tspan><tspan dy="3.5">) (V)</tspan></text>
<text x="343.6" y="453" font-size="16.3" text-anchor="start" fill="#000000" >f)</text>
<path d="M370.4,560 C372.65,559.5 378.98,557.73 383.9,557 C388.82,556.27 394.58,556.1 399.9,555.6 C405.22,555.1 411.15,554.1 415.8,554 C420.45,553.9 423.82,554.33 427.8,555 C431.78,555.67 435.05,556.67 439.7,558 C444.35,559.33 450.72,561.75 455.7,563 C460.68,564.25 464.88,565.03 469.6,565.5 C474.32,565.97 479.57,566.27 484,565.8 C488.43,565.33 491.27,563.75 496.2,562.7 C501.13,561.65 507.8,560.38 513.6,559.5 C519.4,558.62 524.32,557.88 531,557.4 C537.68,556.92 549.03,556.53 553.7,556.6 C558.37,556.67 558.12,557.6 559,557.8" fill="none" stroke="#ff0000" stroke-width="1.6" stroke-linejoin="round" stroke-linecap="round" />
<path d="M370.4,545.8 C371.98,545.13 376.65,543.13 379.9,541.8 C383.15,540.47 386.23,539.2 389.9,537.8 C393.57,536.4 397.58,535.4 401.9,533.4 C406.22,531.4 411.15,528.72 415.8,525.8 C420.45,522.88 425.15,519.55 429.8,515.9 C434.45,512.25 439.38,507.55 443.7,503.9 C448.02,500.25 452.15,496.82 455.7,494 C459.25,491.18 460.87,489.4 465,487 C469.13,484.6 475.3,481.7 480.5,479.6 C485.7,477.5 490.68,475.65 496.2,474.4 C501.72,473.15 507.8,472.68 513.6,472.1 C519.4,471.52 525.18,471.17 531,470.9 C536.82,470.63 543.83,470.57 548.5,470.5 C553.17,470.43 557.25,470.5 559,470.5" fill="none" stroke="#0000ff" stroke-width="1.6" stroke-linejoin="round" stroke-linecap="round" />
<path d="M370.4,557.6 C371.65,558.33 374.98,560.35 377.9,562 C380.82,563.65 384.23,565.78 387.9,567.5 C391.57,569.22 395.92,570.63 399.9,572.3 C403.88,573.97 407.82,575.4 411.8,577.5 C415.78,579.6 420.15,582.83 423.8,584.9 C427.45,586.97 430.38,588.33 433.7,589.9 C437.02,591.47 440.03,593.05 443.7,594.3 C447.37,595.55 451.72,596.55 455.7,597.4 C459.68,598.25 462.88,598.8 467.6,599.4 C472.32,600 477.78,600.5 484,601 C490.22,601.5 498.52,602.05 504.9,602.4 C511.28,602.75 516.48,602.98 522.3,603.1 C528.12,603.22 533.68,603.07 539.8,603.1 C545.92,603.13 555.8,603.27 559,603.3" fill="none" stroke="#111111" stroke-width="1.6" stroke-linejoin="round" stroke-linecap="round" />
<line x1="343.9" y1="469.4" x2="361.6" y2="469.4" stroke="#111111" stroke-width="2.1"/>
<text x="363.2" y="472.1" font-size="7.7" text-anchor="start" fill="#000000" >630 nm</text>
<line x1="343.9" y1="479.2" x2="361.6" y2="479.2" stroke="#ff0000" stroke-width="2.1"/>
<text x="363.2" y="481.9" font-size="7.7" text-anchor="start" fill="#000000" >935 nm</text>
<line x1="343.9" y1="488.5" x2="361.6" y2="488.5" stroke="#0000ff" stroke-width="2.1"/>
<text x="363.2" y="491.2" font-size="7.7" text-anchor="start" fill="#000000" >1550 nm</text>
<line x1="370.4" y1="529.8" x2="386.7" y2="529.8" stroke="#111111" stroke-width="0.8"/>
<path d="M390.9,529.8 L383.9,527.28 L386.35,529.8 L383.9,532.32 Z" fill="#111111"/>
<line x1="370.4" y1="527.6" x2="370.4" y2="532" stroke="#111111" stroke-width="0.8"/>
<text x="550.8" y="480.4" font-size="9.5" text-anchor="middle" fill="#000000" >B</text>
<text x="552.3" y="553.3" font-size="9.5" text-anchor="middle" fill="#000000" >P</text>
<text x="552.9" y="600.1" font-size="9.5" text-anchor="middle" fill="#000000" >N</text>
<text x="569.8" y="629.5" font-size="9" text-anchor="end" fill="#000000" >Charge</text>
<line x1="338.5" y1="461.6" x2="573.4" y2="461.6" stroke="#3a3a3a" stroke-width="1.1"/>
<line x1="338.5" y1="461.1" x2="338.5" y2="635.4" stroke="#3a3a3a" stroke-width="1.1"/>
<line x1="338" y1="634.9" x2="573.9" y2="634.9" stroke="#3a3a3a" stroke-width="1.1"/>
<line x1="573.4" y1="461.6" x2="573.4" y2="634.9" stroke="#3a3a3a" stroke-width="1.1"/>
<line x1="338.5" y1="634.9" x2="338.5" y2="638.1" stroke="#3a3a3a" stroke-width="1.0"/>
<text x="338.5" y="646.5" font-size="7.7" text-anchor="middle" fill="#000000" >-2.0</text>
<line x1="374.64" y1="634.9" x2="374.64" y2="638.1" stroke="#3a3a3a" stroke-width="1.0"/>
<text x="374.64" y="646.5" font-size="7.7" text-anchor="middle" fill="#000000" >-1.5</text>
<line x1="410.78" y1="634.9" x2="410.78" y2="638.1" stroke="#3a3a3a" stroke-width="1.0"/>
<text x="410.78" y="646.5" font-size="7.7" text-anchor="middle" fill="#000000" >-1.0</text>
<line x1="446.92" y1="634.9" x2="446.92" y2="638.1" stroke="#3a3a3a" stroke-width="1.0"/>
<text x="446.92" y="646.5" font-size="7.7" text-anchor="middle" fill="#000000" >-0.5</text>
<line x1="483.05" y1="634.9" x2="483.05" y2="638.1" stroke="#3a3a3a" stroke-width="1.0"/>
<text x="483.05" y="646.5" font-size="7.7" text-anchor="middle" fill="#000000" >0.0</text>
<line x1="519.19" y1="634.9" x2="519.19" y2="638.1" stroke="#3a3a3a" stroke-width="1.0"/>
<text x="519.19" y="646.5" font-size="7.7" text-anchor="middle" fill="#000000" >0.5</text>
<line x1="555.33" y1="634.9" x2="555.33" y2="638.1" stroke="#3a3a3a" stroke-width="1.0"/>
<text x="555.33" y="646.5" font-size="7.7" text-anchor="middle" fill="#000000" >1.0</text>
<line x1="356.57" y1="634.9" x2="356.57" y2="636.9" stroke="#3a3a3a" stroke-width="1.0"/>
<line x1="392.71" y1="634.9" x2="392.71" y2="636.9" stroke="#3a3a3a" stroke-width="1.0"/>
<line x1="428.85" y1="634.9" x2="428.85" y2="636.9" stroke="#3a3a3a" stroke-width="1.0"/>
<line x1="464.98" y1="634.9" x2="464.98" y2="636.9" stroke="#3a3a3a" stroke-width="1.0"/>
<line x1="501.12" y1="634.9" x2="501.12" y2="636.9" stroke="#3a3a3a" stroke-width="1.0"/>
<line x1="537.26" y1="634.9" x2="537.26" y2="636.9" stroke="#3a3a3a" stroke-width="1.0"/>
<line x1="573.4" y1="634.9" x2="573.4" y2="636.9" stroke="#3a3a3a" stroke-width="1.0"/>
<line x1="338.5" y1="625.78" x2="335.3" y2="625.78" stroke="#3a3a3a" stroke-width="1.0"/>
<text x="333.3" y="628.48" font-size="7.7" text-anchor="end" fill="#000000" >0.06</text>
<line x1="338.5" y1="607.54" x2="335.3" y2="607.54" stroke="#3a3a3a" stroke-width="1.0"/>
<text x="333.3" y="610.24" font-size="7.7" text-anchor="end" fill="#000000" >0.08</text>
<line x1="338.5" y1="589.29" x2="335.3" y2="589.29" stroke="#3a3a3a" stroke-width="1.0"/>
<text x="333.3" y="591.99" font-size="7.7" text-anchor="end" fill="#000000" >0.10</text>
<line x1="338.5" y1="571.05" x2="335.3" y2="571.05" stroke="#3a3a3a" stroke-width="1.0"/>
<text x="333.3" y="573.75" font-size="7.7" text-anchor="end" fill="#000000" >0.12</text>
<line x1="338.5" y1="552.81" x2="335.3" y2="552.81" stroke="#3a3a3a" stroke-width="1.0"/>
<text x="333.3" y="555.51" font-size="7.7" text-anchor="end" fill="#000000" >0.14</text>
<line x1="338.5" y1="534.57" x2="335.3" y2="534.57" stroke="#3a3a3a" stroke-width="1.0"/>
<text x="333.3" y="537.27" font-size="7.7" text-anchor="end" fill="#000000" >0.16</text>
<line x1="338.5" y1="516.33" x2="335.3" y2="516.33" stroke="#3a3a3a" stroke-width="1.0"/>
<text x="333.3" y="519.03" font-size="7.7" text-anchor="end" fill="#000000" >0.18</text>
<line x1="338.5" y1="498.08" x2="335.3" y2="498.08" stroke="#3a3a3a" stroke-width="1.0"/>
<text x="333.3" y="500.78" font-size="7.7" text-anchor="end" fill="#000000" >0.20</text>
<line x1="338.5" y1="479.84" x2="335.3" y2="479.84" stroke="#3a3a3a" stroke-width="1.0"/>
<text x="333.3" y="482.54" font-size="7.7" text-anchor="end" fill="#000000" >0.22</text>
<line x1="338.5" y1="461.6" x2="335.3" y2="461.6" stroke="#3a3a3a" stroke-width="1.0"/>
<text x="333.3" y="464.3" font-size="7.7" text-anchor="end" fill="#000000" >0.24</text>
<line x1="338.5" y1="634.9" x2="336.5" y2="634.9" stroke="#3a3a3a" stroke-width="1.0"/>
<line x1="338.5" y1="616.66" x2="336.5" y2="616.66" stroke="#3a3a3a" stroke-width="1.0"/>
<line x1="338.5" y1="598.42" x2="336.5" y2="598.42" stroke="#3a3a3a" stroke-width="1.0"/>
<line x1="338.5" y1="580.17" x2="336.5" y2="580.17" stroke="#3a3a3a" stroke-width="1.0"/>
<line x1="338.5" y1="561.93" x2="336.5" y2="561.93" stroke="#3a3a3a" stroke-width="1.0"/>
<line x1="338.5" y1="543.69" x2="336.5" y2="543.69" stroke="#3a3a3a" stroke-width="1.0"/>
<line x1="338.5" y1="525.45" x2="336.5" y2="525.45" stroke="#3a3a3a" stroke-width="1.0"/>
<line x1="338.5" y1="507.21" x2="336.5" y2="507.21" stroke="#3a3a3a" stroke-width="1.0"/>
<line x1="338.5" y1="488.96" x2="336.5" y2="488.96" stroke="#3a3a3a" stroke-width="1.0"/>
<line x1="338.5" y1="470.72" x2="336.5" y2="470.72" stroke="#3a3a3a" stroke-width="1.0"/>
<text x="309.4" y="548.6" font-size="9.2" text-anchor="middle" fill="#000000" transform="rotate(-90 309.4 548.6)">absorption (a.u.)</text>
<text x="456" y="663.2" font-size="9.2" text-anchor="middle" fill="#000000" ><tspan font-style="italic">E</tspan> (vs. Fc/Fc<tspan font-size="5.5" dy="-3.5">+</tspan><tspan dy="3.5">) (V)</tspan></text>
<text x="35.5" y="672.5" font-size="16.3" text-anchor="start" fill="#000000" >g)</text>
<path d="M33.6,838.54 L34.3,838.69 L35,838.87 L35.7,838.99 L36.4,839.02 L37.1,838.93 L37.8,838.69 L38.5,838.32 L39.2,837.86 L39.9,837.31 L40.6,836.72 L41.3,836.09 L42,835.43 L42.7,834.76 L43.4,834.07 L44.1,833.37 L44.8,832.66 L45.5,831.93 L46.2,831.18 L46.9,830.42 L47.6,829.65 L48.3,828.87 L49,828.08 L49.7,827.3 L50.4,826.52 L51.1,825.76 L51.8,825.04 L52.5,824.34 L53.2,823.62 L53.9,822.88 L54.6,822.11 L55.3,821.35 L56,820.57 L56.7,819.8 L57.4,819.04 L58.1,818.29 L58.8,817.55 L59.5,816.83 L60.2,816.14 L60.9,815.47 L61.6,814.81 L62.3,814.15 L63,813.5 L63.7,812.83 L64.4,812.13 L65.1,811.4 L65.8,810.66 L66.5,809.92 L67.2,809.21 L67.9,808.54 L68.6,807.89 L69.3,807.26 L70,806.63 L70.7,806.01 L71.4,805.41 L72.1,804.81 L72.8,804.22 L73.5,803.65 L74.2,803.09 L74.9,802.55 L75.6,802.02 L76.3,801.51 L77,801.01 L77.7,800.52 L78.4,800.04 L79.1,799.57 L79.8,799.1 L80.5,798.65 L81.2,798.2 L81.9,797.76 L82.6,797.33 L83.3,796.9 L84,796.48 L84.7,796.05 L85.4,795.62 L86.1,795.18 L86.8,794.74 L87.5,794.29 L88.2,793.83 L88.9,793.37 L89.6,792.9 L90.3,792.43 L91,791.95 L91.7,791.47 L92.4,790.98 L93.1,790.49 L93.8,789.99 L94.5,789.48 L95.2,788.96 L95.9,788.46 L96.6,787.94 L97.3,787.41 L98,786.87 L98.7,786.32 L99.4,785.77 L100.1,785.2 L100.8,784.61 L101.5,784.02 L102.2,783.45 L102.9,782.89 L103.6,782.34 L104.3,781.86 L105,781.41 L105.7,781.03 L106.4,780.71 L107.1,780.41 L107.8,780.08 L108.5,779.72 L109.2,779.29 L109.9,778.86 L110.6,778.39 L111.3,777.92 L112,777.44 L112.7,776.96 L113.4,776.47 L114.1,775.98 L114.8,775.48 L115.5,774.98 L116.2,774.49 L116.9,773.98 L117.6,773.48 L118.3,772.98 L119,772.48 L119.7,771.98 L120.4,771.48 L121.1,770.98 L121.8,770.47 L122.5,769.95 L123.2,769.44 L123.9,768.93 L124.6,768.42 L125.3,767.92 L126,767.42 L126.7,766.93 L127.4,766.44 L128.1,765.95 L128.8,765.47 L129.5,764.99 L130.2,764.51 L130.9,764.04 L131.6,763.56 L132.3,763.09 L133,762.63 L133.7,762.17 L134.4,761.7 L135.1,761.25 L135.8,760.8 L136.5,760.36 L137.2,759.92 L137.9,759.49 L138.6,759.06 L139.3,758.64 L140,758.24 L140.7,757.84 L141.4,757.45 L142.1,757.07 L142.8,756.7 L143.5,756.34 L144.2,756 L144.9,755.66 L145.6,755.32 L146.3,755.01 L147,754.69 L147.7,754.38 L148.4,754.08 L149.1,753.78 L149.8,753.49 L150.5,753.21 L151.2,752.93 L151.9,752.65 L152.6,752.38 L153.3,752.11 L154,751.85 L154.7,751.59 L155.4,751.34 L156.1,751.08 L156.8,750.84 L157.5,750.59 L158.2,750.35 L158.9,750.11 L159.6,749.87 L160.3,749.64 L161,749.41 L161.7,749.19 L162.4,748.97 L163.1,748.76 L163.8,748.55 L164.5,748.35 L165.2,748.15 L165.9,747.96 L166.6,747.78 L167.3,747.6 L168,747.43 L168.7,747.26 L169.4,747.11 L170.1,746.96 L170.8,746.83 L171.5,746.7 L172.2,746.6 L172.9,746.5 L173.6,746.44 L174.3,746.4 L175,746.4 L175.7,746.47 L176.4,746.61 L177.1,746.84 L177.8,747.16 L178.5,747.54 L179.2,748 L179.9,748.72 L180.6,749.75 L181.3,750.85 L182,751.63 L182.7,751.81 L183.4,751.22 L184.1,749.85 L184.8,748.09 L185.5,746.55 L186.2,745.47 L186.9,744.73 L187.6,744.14 L188.3,743.64 L189,743.18 L189.7,742.75 L190.4,742.36 L191.1,741.98 L191.8,741.61 L192.5,741.25 L193.2,740.88 L193.9,740.51 L194.6,740.15 L195.3,739.8 L196,739.47 L196.7,739.16 L197.4,738.87 L198.1,738.6 L198.8,738.36 L199.5,738.14 L200.2,737.92 L200.9,737.7 L201.6,737.49 L202.3,737.29 L203,737.11 L203.7,736.93 L204.4,736.77 L205.1,736.6 L205.8,736.44 L206.5,736.27 L207.2,736.11 L207.9,735.95 L208.6,735.78 L209.3,735.6 L210,735.41 L210.7,735.17 L211.4,734.87 L212.1,734.51 L212.8,734.12 L213.5,733.78 L214.2,733.59 L214.9,733.62 L215.6,733.88 L216.3,734.39 L217,735.1 L217.7,735.93 L218.4,736.81 L219.1,737.66 L219.8,738.44 L220.5,739.32 L221.2,740.35 L221.9,741.31 L222.6,742.03 L223.3,742.38 L224,742.23 L224.7,741.59 L225.4,740.44 L226.1,738.92 L226.8,737.19 L227.5,735.39 L228.2,733.71 L228.9,732.33 L229.6,731.38 L230.3,730.84 L231,730.56 L231.7,730.41 L232.4,730.21 L233.1,729.83 L233.8,729.34 L234.5,728.85 L235.2,728.49 L235.9,728.36 L236.6,728.51 L237.3,728.91 L238,729.4 L238.7,729.86 L239.4,730.2 L240.1,730.3 L240.8,730.03 L241.5,729.51 L242.2,728.8 L242.9,728.12 L243.6,727.56 L244.3,727.14 L245,726.78 L245.7,726.44 L246.4,726.11 L247.1,725.81 L247.8,725.52 L248.5,725.25 L249.2,725 L249.9,724.79 L250.6,724.59 L251.3,724.42 L252,724.27 L252.7,724.14 L253.4,724.03 L254.1,723.93 L254.8,723.84 L255.5,723.76 L256.2,723.69 L256.9,723.64 L257.6,723.59 L258.3,723.56 L259,723.54 L259.7,723.53 L260.4,723.55 L261.1,723.62 L261.8,723.75 L262.5,723.97 L263.2,724.3 L263.9,724.68 L264.6,724.98 L265.3,725.26 L266,725.53 L266.7,725.56 L267.4,725.06" fill="none" stroke="#b4b4b4" stroke-width="1.6" stroke-linejoin="round" stroke-linecap="round" />
<path d="M33.6,837.07 L34.3,837.19 L35,837.34 L35.7,837.41 L36.4,837.37 L37.1,837.16 L37.8,836.77 L38.5,836.23 L39.2,835.6 L39.9,834.89 L40.6,834.12 L41.3,833.33 L42,832.5 L42.7,831.66 L43.4,830.8 L44.1,829.94 L44.8,829.06 L45.5,828.16 L46.2,827.23 L46.9,826.27 L47.6,825.31 L48.3,824.33 L49,823.35 L49.7,822.38 L50.4,821.41 L51.1,820.47 L51.8,819.56 L52.5,818.67 L53.2,817.78 L53.9,816.87 L54.6,815.96 L55.3,815.05 L56,814.15 L56.7,813.27 L57.4,812.4 L58.1,811.55 L58.8,810.73 L59.5,809.96 L60.2,809.24 L60.9,808.56 L61.6,807.9 L62.3,807.26 L63,806.62 L63.7,805.95 L64.4,805.23 L65.1,804.45 L65.8,803.65 L66.5,802.86 L67.2,802.12 L67.9,801.45 L68.6,800.83 L69.3,800.24 L70,799.66 L70.7,799.1 L71.4,798.55 L72.1,798.03 L72.8,797.53 L73.5,797.05 L74.2,796.6 L74.9,796.18 L75.6,795.79 L76.3,795.43 L77,795.1 L77.7,794.78 L78.4,794.48 L79.1,794.19 L79.8,793.92 L80.5,793.66 L81.2,793.43 L81.9,793.21 L82.6,793 L83.3,792.8 L84,792.6 L84.7,792.4 L85.4,792.2 L86.1,791.98 L86.8,791.75 L87.5,791.5 L88.2,791.24 L88.9,790.98 L89.6,790.7 L90.3,790.42 L91,790.12 L91.7,789.81 L92.4,789.49 L93.1,789.15 L93.8,788.8 L94.5,788.44 L95.2,788.07 L95.9,787.69 L96.6,787.3 L97.3,786.88 L98,786.44 L98.7,785.98 L99.4,785.49 L100.1,784.97 L100.8,784.41 L101.5,783.83 L102.2,783.25 L102.9,782.69 L103.6,782.14 L104.3,781.64 L105,781.19 L105.7,780.79 L106.4,780.44 L107.1,780.11 L107.8,779.78 L108.5,779.43 L109.2,779.04 L109.9,778.66 L110.6,778.25 L111.3,777.84 L112,777.42 L112.7,776.99 L113.4,776.56 L114.1,776.13 L114.8,775.69 L115.5,775.25 L116.2,774.82 L116.9,774.38 L117.6,773.94 L118.3,773.5 L119,773.07 L119.7,772.63 L120.4,772.19 L121.1,771.75 L121.8,771.3 L122.5,770.84 L123.2,770.39 L123.9,769.93 L124.6,769.48 L125.3,769.04 L126,768.6 L126.7,768.18 L127.4,767.76 L128.1,767.36 L128.8,766.97 L129.5,766.59 L130.2,766.21 L130.9,765.85 L131.6,765.49 L132.3,765.14 L133,764.79 L133.7,764.45 L134.4,764.11 L135.1,763.79 L135.8,763.46 L136.5,763.15 L137.2,762.84 L137.9,762.54 L138.6,762.24 L139.3,761.95 L140,761.67 L140.7,761.4 L141.4,761.13 L142.1,760.88 L142.8,760.63 L143.5,760.39 L144.2,760.16 L144.9,759.93 L145.6,759.72 L146.3,759.51 L147,759.3 L147.7,759.1 L148.4,758.91 L149.1,758.72 L149.8,758.54 L150.5,758.36 L151.2,758.19 L151.9,758.02 L152.6,757.85 L153.3,757.69 L154,757.53 L154.7,757.37 L155.4,757.22 L156.1,757.07 L156.8,756.92 L157.5,756.78 L158.2,756.64 L158.9,756.5 L159.6,756.36 L160.3,756.24 L161,756.11 L161.7,755.98 L162.4,755.87 L163.1,755.76 L163.8,755.65 L164.5,755.55 L165.2,755.44 L165.9,755.35 L166.6,755.27 L167.3,755.18 L168,755.11 L168.7,755.04 L169.4,754.98 L170.1,754.93 L170.8,754.89 L171.5,754.85 L172.2,754.84 L172.9,754.83 L173.6,754.86 L174.3,754.9 L175,754.99 L175.7,755.14 L176.4,755.36 L177.1,755.65 L177.8,756.03 L178.5,756.46 L179.2,756.95 L179.9,757.67 L180.6,758.64 L181.3,759.68 L182,760.5 L182.7,760.82 L183.4,760.4 L184.1,759.09 L184.8,757.19 L185.5,755.53 L186.2,754.44 L186.9,753.75 L187.6,753.25 L188.3,752.83 L189,752.48 L189.7,752.16 L190.4,751.86 L191.1,751.58 L191.8,751.3 L192.5,751.02 L193.2,750.72 L193.9,750.4 L194.6,750.08 L195.3,749.77 L196,749.47 L196.7,749.18 L197.4,748.91 L198.1,748.66 L198.8,748.43 L199.5,748.23 L200.2,748.03 L200.9,747.85 L201.6,747.69 L202.3,747.53 L203,747.4 L203.7,747.26 L204.4,747.13 L205.1,747 L205.8,746.88 L206.5,746.75 L207.2,746.63 L207.9,746.5 L208.6,746.36 L209.3,746.22 L210,746.07 L210.7,745.86 L211.4,745.59 L212.1,745.27 L212.8,744.91 L213.5,744.59 L214.2,744.41 L214.9,744.42 L215.6,744.66 L216.3,745.11 L217,745.76 L217.7,746.52 L218.4,747.34 L219.1,748.15 L219.8,748.96 L220.5,750 L221.2,751.24 L221.9,752.32 L222.6,753 L223.3,753.17 L224,752.77 L224.7,751.92 L225.4,750.69 L226.1,749.21 L226.8,747.61 L227.5,746 L228.2,744.52 L228.9,743.29 L229.6,742.4 L230.3,741.79 L231,741.35 L231.7,741.04 L232.4,740.73 L233.1,740.37 L233.8,739.98 L234.5,739.63 L235.2,739.37 L235.9,739.31 L236.6,739.47 L237.3,739.79 L238,740.18 L238.7,740.55 L239.4,740.79 L240.1,740.82 L240.8,740.51 L241.5,739.93 L242.2,739.17 L242.9,738.43 L243.6,737.85 L244.3,737.41 L245,737.05 L245.7,736.71 L246.4,736.39 L247.1,736.09 L247.8,735.81 L248.5,735.54 L249.2,735.29 L249.9,735.06 L250.6,734.85 L251.3,734.65 L252,734.49 L252.7,734.34 L253.4,734.19 L254.1,734.07 L254.8,733.96 L255.5,733.86 L256.2,733.78 L256.9,733.7 L257.6,733.64 L258.3,733.6 L259,733.58 L259.7,733.57 L260.4,733.59 L261.1,733.65 L261.8,733.78 L262.5,733.96 L263.2,734.22 L263.9,734.52 L264.6,734.79 L265.3,735.04 L266,735.3 L266.7,735.42 L267.4,735.24" fill="none" stroke="#b4b4b4" stroke-width="1.6" stroke-linejoin="round" stroke-linecap="round" />
<path d="M33.6,834.69 L34.3,834.75 L35,834.83 L35.7,834.8 L36.4,834.61 L37.1,834.22 L37.8,833.66 L38.5,832.96 L39.2,832.17 L39.9,831.31 L40.6,830.4 L41.3,829.45 L42,828.46 L42.7,827.43 L43.4,826.37 L44.1,825.3 L44.8,824.19 L45.5,823.06 L46.2,821.87 L46.9,820.65 L47.6,819.4 L48.3,818.12 L49,816.81 L49.7,815.49 L50.4,814.16 L51.1,812.83 L51.8,811.51 L52.5,810.21 L53.2,808.91 L53.9,807.6 L54.6,806.28 L55.3,804.97 L56,803.68 L56.7,802.43 L57.4,801.21 L58.1,800.02 L58.8,798.87 L59.5,797.77 L60.2,796.73 L60.9,795.75 L61.6,794.79 L62.3,793.85 L63,792.91 L63.7,791.92 L64.4,790.87 L65.1,789.77 L65.8,788.63 L66.5,787.51 L67.2,786.49 L67.9,785.58 L68.6,784.77 L69.3,784.01 L70,783.3 L70.7,782.64 L71.4,782.02 L72.1,781.44 L72.8,780.9 L73.5,780.42 L74.2,779.98 L74.9,779.58 L75.6,779.22 L76.3,778.89 L77,778.59 L77.7,778.36 L78.4,778.23 L79.1,778.18 L79.8,778.21 L80.5,778.23 L81.2,778.3 L81.9,778.44 L82.6,778.62 L83.3,778.82 L84,779.02 L84.7,779.2 L85.4,779.34 L86.1,779.44 L86.8,779.52 L87.5,779.57 L88.2,779.63 L88.9,779.71 L89.6,779.82 L90.3,779.99 L91,780.28 L91.7,780.73 L92.4,781.34 L93.1,781.95 L93.8,782.68 L94.5,783.47 L95.2,784.21 L95.9,784.77 L96.6,785.16 L97.3,785.47 L98,785.78 L98.7,786.18 L99.4,786.51 L100.1,786.61 L100.8,786.58 L101.5,786.46 L102.2,786.28 L102.9,786.06 L103.6,785.83 L104.3,785.62 L105,785.42 L105.7,785.25 L106.4,785.09 L107.1,784.93 L107.8,784.78 L108.5,784.63 L109.2,784.48 L109.9,784.32 L110.6,784.15 L111.3,783.97 L112,783.78 L112.7,783.57 L113.4,783.36 L114.1,783.14 L114.8,782.91 L115.5,782.67 L116.2,782.42 L116.9,782.17 L117.6,781.91 L118.3,781.65 L119,781.4 L119.7,781.15 L120.4,780.9 L121.1,780.64 L121.8,780.38 L122.5,780.11 L123.2,779.83 L123.9,779.57 L124.6,779.3 L125.3,779.05 L126,778.81 L126.7,778.58 L127.4,778.35 L128.1,778.14 L128.8,777.94 L129.5,777.76 L130.2,777.56 L130.9,777.33 L131.6,777.11 L132.3,776.89 L133,776.67 L133.7,776.46 L134.4,776.26 L135.1,776.06 L135.8,775.86 L136.5,775.67 L137.2,775.49 L137.9,775.31 L138.6,775.13 L139.3,774.96 L140,774.79 L140.7,774.63 L141.4,774.47 L142.1,774.32 L142.8,774.17 L143.5,774.02 L144.2,773.89 L144.9,773.75 L145.6,773.61 L146.3,773.49 L147,773.36 L147.7,773.23 L148.4,773.11 L149.1,772.99 L149.8,772.88 L150.5,772.77 L151.2,772.65 L151.9,772.55 L152.6,772.44 L153.3,772.34 L154,772.24 L154.7,772.15 L155.4,772.05 L156.1,771.96 L156.8,771.87 L157.5,771.79 L158.2,771.71 L158.9,771.63 L159.6,771.56 L160.3,771.49 L161,771.42 L161.7,771.36 L162.4,771.3 L163.1,771.25 L163.8,771.19 L164.5,771.15 L165.2,771.1 L165.9,771.06 L166.6,771.02 L167.3,770.99 L168,770.96 L168.7,770.93 L169.4,770.92 L170.1,770.9 L170.8,770.9 L171.5,770.9 L172.2,770.91 L172.9,770.92 L173.6,770.96 L174.3,771.01 L175,771.09 L175.7,771.21 L176.4,771.36 L177.1,771.58 L177.8,771.86 L178.5,772.2 L179.2,772.81 L179.9,773.59 L180.6,774.48 L181.3,775.53 L182,776.39 L182.7,776.82 L183.4,776.57 L184.1,775.45 L184.8,773.66 L185.5,772.06 L186.2,770.98 L186.9,770.29 L187.6,769.82 L188.3,769.46 L189,769.19 L189.7,768.96 L190.4,768.76 L191.1,768.57 L191.8,768.39 L192.5,768.2 L193.2,768.01 L193.9,767.79 L194.6,767.58 L195.3,767.37 L196,767.16 L196.7,766.96 L197.4,766.77 L198.1,766.59 L198.8,766.42 L199.5,766.26 L200.2,766.12 L200.9,765.99 L201.6,765.86 L202.3,765.74 L203,765.63 L203.7,765.52 L204.4,765.42 L205.1,765.32 L205.8,765.22 L206.5,765.12 L207.2,765.02 L207.9,764.92 L208.6,764.82 L209.3,764.72 L210,764.61 L210.7,764.47 L211.4,764.3 L212.1,764.1 L212.8,763.88 L213.5,763.69 L214.2,763.57 L214.9,763.58 L215.6,763.72 L216.3,764.01 L217,764.48 L217.7,765.26 L218.4,766.16 L219.1,766.95 L219.8,767.83 L220.5,768.93 L221.2,770.19 L221.9,771.27 L222.6,771.96 L223.3,772.17 L224,771.84 L224.7,771.17 L225.4,770.23 L226.1,769.11 L226.8,767.85 L227.5,766.15 L228.2,764.34 L228.9,763.24 L229.6,762.5 L230.3,761.93 L231,761.46 L231.7,761.07 L232.4,760.74 L233.1,760.48 L233.8,760.26 L234.5,760.09 L235.2,759.98 L235.9,759.97 L236.6,760.1 L237.3,760.35 L238,760.7 L238.7,761.07 L239.4,761.35 L240.1,761.41 L240.8,761.06 L241.5,760.28 L242.2,759.54 L242.9,758.94 L243.6,758.51 L244.3,758.18 L245,757.9 L245.7,757.65 L246.4,757.42 L247.1,757.19 L247.8,756.99 L248.5,756.79 L249.2,756.61 L249.9,756.43 L250.6,756.28 L251.3,756.13 L252,756 L252.7,755.89 L253.4,755.79 L254.1,755.71 L254.8,755.64 L255.5,755.59 L256.2,755.55 L256.9,755.53 L257.6,755.52 L258.3,755.54 L259,755.58 L259.7,755.63 L260.4,755.71 L261.1,755.84 L261.8,756.01 L262.5,756.2 L263.2,756.44 L263.9,756.7 L264.6,756.97 L265.3,757.26 L266,757.55 L266.7,757.84 L267.4,758.09" fill="none" stroke="#b4b4b4" stroke-width="1.6" stroke-linejoin="round" stroke-linecap="round" />
<path d="M33.6,833.7 L34.3,833.73 L35,833.76 L35.7,833.66 L36.4,833.38 L37.1,832.94 L37.8,832.37 L38.5,831.71 L39.2,830.97 L39.9,830.17 L40.6,829.31 L41.3,828.41 L42,827.45 L42.7,826.43 L43.4,825.36 L44.1,824.25 L44.8,823.09 L45.5,821.9 L46.2,820.65 L46.9,819.35 L47.6,818.01 L48.3,816.62 L49,815.17 L49.7,813.65 L50.4,812.1 L51.1,810.52 L51.8,808.92 L52.5,807.33 L53.2,805.75 L53.9,804.14 L54.6,802.48 L55.3,800.83 L56,799.21 L56.7,797.64 L57.4,796.09 L58.1,794.57 L58.8,793.08 L59.5,791.61 L60.2,790.19 L60.9,788.79 L61.6,787.42 L62.3,786.05 L63,784.67 L63.7,783.24 L64.4,781.78 L65.1,780.28 L65.8,778.76 L66.5,777.3 L67.2,775.92 L67.9,774.67 L68.6,773.53 L69.3,772.49 L70,771.53 L70.7,770.65 L71.4,769.81 L72.1,769.03 L72.8,768.33 L73.5,767.68 L74.2,767.08 L74.9,766.53 L75.6,765.99 L76.3,765.46 L77,764.96 L77.7,764.59 L78.4,764.4 L79.1,764.38 L79.8,764.54 L80.5,764.78 L81.2,765.11 L81.9,765.59 L82.6,766.13 L83.3,766.69 L84,767.22 L84.7,767.71 L85.4,768.12 L86.1,768.46 L86.8,768.76 L87.5,769.04 L88.2,769.35 L88.9,769.69 L89.6,770.11 L90.3,770.7 L91,771.52 L91.7,772.72 L92.4,774.23 L93.1,775.77 L93.8,777.54 L94.5,779.43 L95.2,781.21 L95.9,782.62 L96.6,783.71 L97.3,784.63 L98,785.6 L98.7,786.76 L99.4,787.8 L100.1,788.46 L100.8,788.89 L101.5,789.17 L102.2,789.33 L102.9,789.41 L103.6,789.45 L104.3,789.46 L105,789.47 L105.7,789.47 L106.4,789.46 L107.1,789.45 L107.8,789.43 L108.5,789.39 L109.2,789.35 L109.9,789.29 L110.6,789.21 L111.3,789.12 L112,789.01 L112.7,788.89 L113.4,788.75 L114.1,788.6 L114.8,788.43 L115.5,788.24 L116.2,788.04 L116.9,787.82 L117.6,787.6 L118.3,787.38 L119,787.16 L119.7,786.94 L120.4,786.73 L121.1,786.51 L121.8,786.28 L122.5,786.05 L123.2,785.82 L123.9,785.59 L124.6,785.36 L125.3,785.15 L126,784.94 L126.7,784.73 L127.4,784.54 L128.1,784.35 L128.8,784.16 L129.5,783.99 L130.2,783.8 L130.9,783.57 L131.6,783.35 L132.3,783.13 L133,782.92 L133.7,782.71 L134.4,782.5 L135.1,782.29 L135.8,782.09 L136.5,781.89 L137.2,781.69 L137.9,781.5 L138.6,781.31 L139.3,781.12 L140,780.94 L140.7,780.75 L141.4,780.58 L142.1,780.4 L142.8,780.23 L143.5,780.06 L144.2,779.9 L144.9,779.73 L145.6,779.57 L146.3,779.41 L147,779.26 L147.7,779.1 L148.4,778.95 L149.1,778.8 L149.8,778.65 L150.5,778.51 L151.2,778.36 L151.9,778.22 L152.6,778.08 L153.3,777.94 L154,777.81 L154.7,777.68 L155.4,777.55 L156.1,777.43 L156.8,777.31 L157.5,777.19 L158.2,777.08 L158.9,776.97 L159.6,776.86 L160.3,776.76 L161,776.66 L161.7,776.56 L162.4,776.47 L163.1,776.38 L163.8,776.3 L164.5,776.21 L165.2,776.13 L165.9,776.05 L166.6,775.98 L167.3,775.91 L168,775.84 L168.7,775.78 L169.4,775.72 L170.1,775.66 L170.8,775.61 L171.5,775.57 L172.2,775.53 L172.9,775.5 L173.6,775.48 L174.3,775.48 L175,775.49 L175.7,775.53 L176.4,775.59 L177.1,775.71 L177.8,775.88 L178.5,776.14 L179.2,776.8 L179.9,777.62 L180.6,778.5 L181.3,779.58 L182,780.46 L182.7,780.86 L183.4,780.6 L184.1,779.56 L184.8,777.96 L185.5,776.48 L186.2,775.41 L186.9,774.69 L187.6,774.18 L188.3,773.79 L189,773.5 L189.7,773.25 L190.4,773.04 L191.1,772.84 L191.8,772.67 L192.5,772.48 L193.2,772.32 L193.9,772.14 L194.6,771.96 L195.3,771.79 L196,771.62 L196.7,771.46 L197.4,771.31 L198.1,771.16 L198.8,771.03 L199.5,770.9 L200.2,770.77 L200.9,770.65 L201.6,770.53 L202.3,770.42 L203,770.31 L203.7,770.21 L204.4,770.1 L205.1,770 L205.8,769.91 L206.5,769.81 L207.2,769.72 L207.9,769.63 L208.6,769.53 L209.3,769.44 L210,769.35 L210.7,769.24 L211.4,769.13 L212.1,769 L212.8,768.87 L213.5,768.75 L214.2,768.69 L214.9,768.71 L215.6,768.83 L216.3,769.06 L217,769.47 L217.7,770.32 L218.4,771.33 L219.1,772.14 L219.8,773.05 L220.5,774.11 L221.2,775.24 L221.9,776.25 L222.6,776.99 L223.3,777.36 L224,777.26 L224.7,776.85 L225.4,776.15 L226.1,775.22 L226.8,774.1 L227.5,772.19 L228.2,770.01 L228.9,768.87 L229.6,768.18 L230.3,767.68 L231,767.27 L231.7,766.93 L232.4,766.65 L233.1,766.42 L233.8,766.23 L234.5,766.08 L235.2,765.97 L235.9,765.94 L236.6,766.03 L237.3,766.27 L238,766.65 L238.7,767.08 L239.4,767.43 L240.1,767.54 L240.8,767.18 L241.5,766.3 L242.2,765.61 L242.9,765.12 L243.6,764.78 L244.3,764.51 L245,764.28 L245.7,764.08 L246.4,763.88 L247.1,763.7 L247.8,763.53 L248.5,763.37 L249.2,763.22 L249.9,763.08 L250.6,762.95 L251.3,762.84 L252,762.74 L252.7,762.66 L253.4,762.59 L254.1,762.54 L254.8,762.51 L255.5,762.48 L256.2,762.48 L256.9,762.49 L257.6,762.52 L258.3,762.57 L259,762.64 L259.7,762.72 L260.4,762.84 L261.1,762.99 L261.8,763.18 L262.5,763.4 L263.2,763.67 L263.9,763.95 L264.6,764.24 L265.3,764.55 L266,764.86 L266.7,765.18 L267.4,765.46" fill="none" stroke="#b4b4b4" stroke-width="1.6" stroke-linejoin="round" stroke-linecap="round" />
<path d="M33.6,832.71 L34.3,832.72 L35,832.69 L35.7,832.51 L36.4,832.15 L37.1,831.66 L37.8,831.09 L38.5,830.45 L39.2,829.76 L39.9,829.02 L40.6,828.23 L41.3,827.37 L42,826.44 L42.7,825.43 L43.4,824.34 L44.1,823.2 L44.8,822 L45.5,820.74 L46.2,819.42 L46.9,818.05 L47.6,816.61 L48.3,815.11 L49,813.52 L49.7,811.82 L50.4,810.04 L51.1,808.2 L51.8,806.33 L52.5,804.46 L53.2,802.6 L53.9,800.68 L54.6,798.69 L55.3,796.69 L56,794.74 L56.7,792.85 L57.4,790.98 L58.1,789.12 L58.8,787.29 L59.5,785.46 L60.2,783.64 L60.9,781.84 L61.6,780.05 L62.3,778.25 L63,776.43 L63.7,774.57 L64.4,772.68 L65.1,770.78 L65.8,768.9 L66.5,767.08 L67.2,765.34 L67.9,763.75 L68.6,762.29 L69.3,760.97 L70,759.76 L70.7,758.65 L71.4,757.61 L72.1,756.63 L72.8,755.75 L73.5,754.94 L74.2,754.19 L74.9,753.47 L75.6,752.76 L76.3,752.03 L77,751.33 L77.7,750.81 L78.4,750.58 L79.1,750.58 L79.8,750.87 L80.5,751.37 L81.2,752.02 L81.9,752.87 L82.6,753.82 L83.3,754.78 L84,755.69 L84.7,756.52 L85.4,757.23 L86.1,757.84 L86.8,758.4 L87.5,758.96 L88.2,759.53 L88.9,760.17 L89.6,760.93 L90.3,761.93 L91,763.3 L91.7,765.22 L92.4,767.61 L93.1,770.04 L93.8,772.8 L94.5,775.73 L95.2,778.47 L95.9,780.67 L96.6,782.39 L97.3,783.88 L98,785.43 L98.7,787.27 L99.4,788.96 L100.1,790.1 L100.8,790.93 L101.5,791.54 L102.2,791.99 L102.9,792.33 L103.6,792.58 L104.3,792.77 L105,792.93 L105.7,793.07 L106.4,793.17 L107.1,793.26 L107.8,793.33 L108.5,793.37 L109.2,793.4 L109.9,793.4 L110.6,793.38 L111.3,793.34 L112,793.28 L112.7,793.2 L113.4,793.1 L114.1,792.98 L114.8,792.83 L115.5,792.66 L116.2,792.47 L116.9,792.27 L117.6,792.05 L118.3,791.83 L119,791.61 L119.7,791.4 L120.4,791.18 L121.1,790.97 L121.8,790.74 L122.5,790.51 L123.2,790.28 L123.9,790.06 L124.6,789.84 L125.3,789.62 L126,789.41 L126.7,789.2 L127.4,788.99 L128.1,788.79 L128.8,788.59 L129.5,788.39 L130.2,788.19 L130.9,787.97 L131.6,787.75 L132.3,787.53 L133,787.32 L133.7,787.1 L134.4,786.89 L135.1,786.68 L135.8,786.47 L136.5,786.26 L137.2,786.06 L137.9,785.85 L138.6,785.65 L139.3,785.45 L140,785.26 L140.7,785.06 L141.4,784.87 L142.1,784.68 L142.8,784.5 L143.5,784.31 L144.2,784.13 L144.9,783.95 L145.6,783.77 L146.3,783.59 L147,783.41 L147.7,783.23 L148.4,783.06 L149.1,782.88 L149.8,782.71 L150.5,782.54 L151.2,782.38 L151.9,782.21 L152.6,782.05 L153.3,781.89 L154,781.73 L154.7,781.58 L155.4,781.42 L156.1,781.28 L156.8,781.13 L157.5,780.99 L158.2,780.85 L158.9,780.72 L159.6,780.59 L160.3,780.47 L161,780.34 L161.7,780.22 L162.4,780.11 L163.1,780 L163.8,779.88 L164.5,779.78 L165.2,779.67 L165.9,779.57 L166.6,779.47 L167.3,779.37 L168,779.28 L168.7,779.19 L169.4,779.1 L170.1,779.02 L170.8,778.93 L171.5,778.86 L172.2,778.79 L172.9,778.72 L173.6,778.67 L174.3,778.62 L175,778.58 L175.7,778.57 L176.4,778.56 L177.1,778.61 L177.8,778.71 L178.5,778.91 L179.2,779.61 L179.9,780.46 L180.6,781.32 L181.3,782.44 L182,783.32 L182.7,783.7 L183.4,783.43 L184.1,782.45 L184.8,780.98 L185.5,779.59 L186.2,778.53 L186.9,777.78 L187.6,777.25 L188.3,776.83 L189,776.53 L189.7,776.27 L190.4,776.05 L191.1,775.85 L191.8,775.68 L192.5,775.5 L193.2,775.35 L193.9,775.19 L194.6,775.04 L195.3,774.9 L196,774.76 L196.7,774.63 L197.4,774.51 L198.1,774.39 L198.8,774.27 L199.5,774.15 L200.2,774.04 L200.9,773.93 L201.6,773.82 L202.3,773.71 L203,773.6 L203.7,773.5 L204.4,773.4 L205.1,773.3 L205.8,773.21 L206.5,773.11 L207.2,773.02 L207.9,772.94 L208.6,772.85 L209.3,772.77 L210,772.69 L210.7,772.61 L211.4,772.53 L212.1,772.45 L212.8,772.38 L213.5,772.32 L214.2,772.3 L214.9,772.32 L215.6,772.42 L216.3,772.61 L217,772.98 L217.7,773.88 L218.4,774.96 L219.1,775.79 L219.8,776.72 L220.5,777.75 L221.2,778.8 L221.9,779.76 L222.6,780.52 L223.3,781 L224,781.07 L224.7,780.85 L225.4,780.31 L226.1,779.53 L226.8,778.5 L227.5,776.44 L228.2,774.01 L228.9,772.84 L229.6,772.18 L230.3,771.72 L231,771.36 L231.7,771.06 L232.4,770.81 L233.1,770.6 L233.8,770.43 L234.5,770.29 L235.2,770.18 L235.9,770.14 L236.6,770.2 L237.3,770.44 L238,770.84 L238.7,771.31 L239.4,771.7 L240.1,771.85 L240.8,771.48 L241.5,770.53 L242.2,769.88 L242.9,769.47 L243.6,769.2 L244.3,768.97 L245,768.78 L245.7,768.6 L246.4,768.43 L247.1,768.27 L247.8,768.13 L248.5,767.99 L249.2,767.87 L249.9,767.75 L250.6,767.65 L251.3,767.56 L252,767.48 L252.7,767.42 L253.4,767.38 L254.1,767.35 L254.8,767.34 L255.5,767.33 L256.2,767.36 L256.9,767.39 L257.6,767.44 L258.3,767.52 L259,767.61 L259.7,767.72 L260.4,767.85 L261.1,768.02 L261.8,768.23 L262.5,768.47 L263.2,768.75 L263.9,769.04 L264.6,769.35 L265.3,769.68 L266,770.01 L266.7,770.34 L267.4,770.65" fill="none" stroke="#b4b4b4" stroke-width="1.6" stroke-linejoin="round" stroke-linecap="round" />
<path d="M33.6,832 C33.99,831.89 35.34,832.09 36.5,831.2 C37.66,830.31 40.75,827.53 42.3,825.3 C43.85,823.07 46.7,817.67 48.1,814.5 C49.5,811.33 51.75,804.57 52.8,801.5 C53.85,798.43 55.11,794.23 56,791.5 C56.89,788.77 58.63,783.6 59.5,781 C60.37,778.4 61.42,775.25 62.5,772 C63.58,768.75 66.4,759.72 67.6,756.6 C68.8,753.48 70.45,750.37 71.5,748.6 C72.55,746.83 74.61,744.37 75.5,743.3 C76.39,742.23 77.49,740.77 78.2,740.6 C78.91,740.43 79.92,740.93 80.8,742 C81.68,743.07 83.56,746.84 84.8,748.6 C86.04,750.36 89.03,753.07 90.1,755.2 C91.17,757.33 92.08,761.59 92.8,764.6 C93.52,767.61 94.82,775.08 95.5,777.8 C96.18,780.52 97.31,783.25 97.9,785 C98.49,786.75 99.23,789.65 99.9,790.9 C100.57,792.15 101.83,793.71 102.9,794.4 C103.97,795.09 106.45,795.87 107.9,796.1 C109.35,796.33 112.19,796.33 113.8,796.1 C115.41,795.87 118.29,794.91 120,794.4 C121.71,793.89 123.51,793.25 126.6,792.3 C129.69,791.35 138.77,788.53 143.2,787.3 C147.63,786.07 155.37,783.99 159.8,783.1 C164.23,782.21 173.73,780.71 176.4,780.6 C179.07,780.49 178.91,781.63 179.8,782.3 C180.69,782.97 181.99,786.04 183.1,785.6 C184.21,785.16 185.66,780.27 188.1,779 C190.54,777.73 197.8,776.66 201.4,776.1 C205,775.54 212.81,774.59 215.1,774.8 C217.39,775.01 217.51,776.54 218.6,777.7 C219.69,778.86 222.22,782.97 223.3,783.5 C224.38,784.03 225.93,782.79 226.7,781.7 C227.47,780.61 227.86,776.46 229.1,775.3 C230.34,774.14 234.53,773.07 236,773 C237.47,772.93 239.17,774.88 240.1,774.8 C241.03,774.72 241.37,772.95 243,772.4 C244.63,771.85 249.97,770.85 252.3,770.7 C254.63,770.55 258.49,770.83 260.5,771.3 C262.51,771.77 266.4,773.77 267.4,774.2 C268.4,774.63 267.92,774.46 268,774.5" fill="none" stroke="#111111" stroke-width="1.8" stroke-linejoin="round" stroke-linecap="round" />
<path d="M33.6,835.4 C34.15,835.31 36.23,836.05 37.7,834.7 C39.17,833.35 42.75,828.1 44.6,825.3 C46.45,822.5 49.73,816.63 51.6,813.7 C53.47,810.77 56.95,805.41 58.6,803.3 C60.25,801.19 62.75,799.22 64,797.9 C65.25,796.58 66.67,794.53 68,793.4 C69.33,792.27 72.41,790.11 74,789.4 C75.59,788.69 78.18,788.23 79.9,788.1 C81.62,787.97 85.17,788.45 86.9,788.4 C88.63,788.35 91.3,788.09 92.9,787.7 C94.5,787.31 97.3,786.39 98.9,785.5 C100.5,784.61 103.18,782.07 104.9,781 C106.62,779.93 109.79,778.54 111.8,777.5 C113.81,776.46 117.59,774.44 120,773.2 C122.41,771.96 126.81,769.31 129.9,768.2 C132.99,767.09 139.21,765.53 143.2,764.9 C147.19,764.27 155.81,763.62 159.8,763.5 C163.79,763.38 170.55,763.6 173.1,764 C175.65,764.4 177.57,765.61 178.9,766.5 C180.23,767.39 182.1,771.03 183.1,770.7 C184.1,770.37 185.07,765.23 186.4,764 C187.73,762.77 191.29,762.15 193.1,761.5 C194.91,760.85 197.75,759.65 200,759.1 C202.25,758.55 207.99,757.84 210,757.4 C212.01,756.96 213.83,755.52 215.1,755.8 C216.37,756.08 218.41,758.37 219.5,759.5 C220.59,760.63 222.02,764.98 223.3,764.3 C224.58,763.62 227.55,756.19 229.1,754.4 C230.65,752.61 233.43,751.21 234.9,750.9 C236.37,750.59 238.86,752.41 240.1,752.1 C241.34,751.79 242.57,749.45 244.2,748.6 C245.83,747.75 250.13,746.19 252.3,745.7 C254.47,745.21 258.49,744.74 260.5,744.9 C262.51,745.06 266.4,746.69 267.4,746.9 C268.4,747.11 267.92,746.55 268,746.5" fill="none" stroke="#ff0000" stroke-width="1.8" stroke-linejoin="round" stroke-linecap="round" />
<path d="M33.6,840.3 C34.15,840.39 36.54,841.21 37.7,841 C38.86,840.79 40.61,839.83 42.3,838.7 C43.99,837.57 48.04,834.42 50.4,832.5 C52.76,830.58 53.53,830.43 60,824.3 C66.47,818.17 92.23,792.54 98.9,786.5 C105.57,780.46 106.31,781.77 110,779 C113.69,776.23 122.17,769.25 126.6,765.7 C131.03,762.15 138.77,755.39 143.2,752.4 C147.63,749.41 155.81,745.18 159.8,743.3 C163.79,741.42 170.55,738.86 173.1,738.3 C175.65,737.74 177.63,738.45 178.9,739.1 C180.17,739.75 181.6,743.53 182.6,743.2 C183.6,742.87 185,738.15 186.4,736.6 C187.8,735.05 191.29,732.68 193.1,731.6 C194.91,730.52 197.75,729.17 200,728.5 C202.25,727.83 207.99,727.03 210,726.6 C212.01,726.17 213.79,724.74 215.1,725.3 C216.41,725.86 218.56,729.52 219.8,730.8 C221.04,732.08 223.16,735.67 224.4,734.9 C225.64,734.13 228.01,726.48 229.1,725 C230.19,723.52 231.68,724.19 232.6,723.8 C233.52,723.41 235,721.98 236,722.1 C237,722.22 239.01,724.7 240.1,724.7 C241.19,724.7 242.72,722.73 244.2,722.1 C245.68,721.47 249.03,720.28 251.2,720 C253.37,719.72 258.73,719.76 260.5,720 C262.27,720.24 263.69,721.45 264.5,721.8 C265.31,722.15 266.13,722.67 266.6,722.6 C267.07,722.53 267.81,721.47 268,721.3" fill="none" stroke="#0000ff" stroke-width="1.8" stroke-linejoin="round" stroke-linecap="round" />
<line x1="37.6" y1="687.9" x2="55.2" y2="687.9" stroke="#0000ff" stroke-width="2.1"/>
<text x="56.8" y="690.6" font-size="7.9" text-anchor="start" fill="#000000" >0,9 V</text>
<line x1="37.6" y1="697.2" x2="55.2" y2="697.2" stroke="#ff0000" stroke-width="2.1"/>
<text x="56.8" y="699.9" font-size="7.9" text-anchor="start" fill="#000000" >-0,35 V</text>
<line x1="37.6" y1="706.4" x2="55.2" y2="706.4" stroke="#111111" stroke-width="2.1"/>
<text x="56.8" y="709.1" font-size="7.9" text-anchor="start" fill="#000000" >-1,4 V</text>
<line x1="89.2" y1="685.4" x2="89.2" y2="703.85" stroke="#111111" stroke-width="0.8"/>
<path d="M89.2,709.1 L86.6,701.6 L89.2,703.85 L91.8,701.6 Z" fill="#111111"/>
<line x1="91.4" y1="685.4" x2="87" y2="685.4" stroke="#111111" stroke-width="0.8"/>
<line x1="78.5" y1="736" x2="78.5" y2="724.55" stroke="#111111" stroke-width="0.8"/>
<path d="M78.5,719.3 L81.1,726.8 L78.5,724.55 L75.9,726.8 Z" fill="#111111"/>
<line x1="139.6" y1="733.3" x2="139.6" y2="746.35" stroke="#ff0000" stroke-width="0.8"/>
<path d="M139.6,751.6 L137,744.1 L139.6,746.35 L142.2,744.1 Z" fill="#ff0000"/>
<line x1="259.9" y1="698.3" x2="259.9" y2="710.55" stroke="#0000ff" stroke-width="0.8"/>
<path d="M259.9,715.8 L257.3,708.3 L259.9,710.55 L262.5,708.3 Z" fill="#0000ff"/>
<text x="265.4" y="849.9" font-size="9" text-anchor="end" fill="#000000" >Discharge</text>
<line x1="33.6" y1="681.2" x2="268" y2="681.2" stroke="#3a3a3a" stroke-width="1.1"/>
<line x1="33.6" y1="680.7" x2="33.6" y2="854.8" stroke="#3a3a3a" stroke-width="1.1"/>
<line x1="33.1" y1="854.3" x2="268.5" y2="854.3" stroke="#3a3a3a" stroke-width="1.1"/>
<line x1="268" y1="681.2" x2="268" y2="854.3" stroke="#3a3a3a" stroke-width="1.1"/>
<line x1="33.6" y1="854.3" x2="33.6" y2="857.5" stroke="#3a3a3a" stroke-width="1.0"/>
<text x="33.6" y="865.9" font-size="7.7" text-anchor="middle" fill="#000000" >400</text>
<line x1="72.67" y1="854.3" x2="72.67" y2="857.5" stroke="#3a3a3a" stroke-width="1.0"/>
<text x="72.67" y="865.9" font-size="7.7" text-anchor="middle" fill="#000000" >600</text>
<line x1="111.73" y1="854.3" x2="111.73" y2="857.5" stroke="#3a3a3a" stroke-width="1.0"/>
<text x="111.73" y="865.9" font-size="7.7" text-anchor="middle" fill="#000000" >800</text>
<line x1="150.8" y1="854.3" x2="150.8" y2="857.5" stroke="#3a3a3a" stroke-width="1.0"/>
<text x="150.8" y="865.9" font-size="7.7" text-anchor="middle" fill="#000000" >1000</text>
<line x1="189.87" y1="854.3" x2="189.87" y2="857.5" stroke="#3a3a3a" stroke-width="1.0"/>
<text x="189.87" y="865.9" font-size="7.7" text-anchor="middle" fill="#000000" >1200</text>
<line x1="228.93" y1="854.3" x2="228.93" y2="857.5" stroke="#3a3a3a" stroke-width="1.0"/>
<text x="228.93" y="865.9" font-size="7.7" text-anchor="middle" fill="#000000" >1400</text>
<line x1="268" y1="854.3" x2="268" y2="857.5" stroke="#3a3a3a" stroke-width="1.0"/>
<text x="268" y="865.9" font-size="7.7" text-anchor="middle" fill="#000000" >1600</text>
<line x1="53.13" y1="854.3" x2="53.13" y2="856.3" stroke="#3a3a3a" stroke-width="1.0"/>
<line x1="92.2" y1="854.3" x2="92.2" y2="856.3" stroke="#3a3a3a" stroke-width="1.0"/>
<line x1="131.27" y1="854.3" x2="131.27" y2="856.3" stroke="#3a3a3a" stroke-width="1.0"/>
<line x1="170.33" y1="854.3" x2="170.33" y2="856.3" stroke="#3a3a3a" stroke-width="1.0"/>
<line x1="209.4" y1="854.3" x2="209.4" y2="856.3" stroke="#3a3a3a" stroke-width="1.0"/>
<line x1="248.47" y1="854.3" x2="248.47" y2="856.3" stroke="#3a3a3a" stroke-width="1.0"/>
<line x1="33.6" y1="838.56" x2="30.4" y2="838.56" stroke="#3a3a3a" stroke-width="1.0"/>
<text x="28.4" y="841.26" font-size="7.7" text-anchor="end" fill="#000000" >0.5</text>
<line x1="33.6" y1="807.09" x2="30.4" y2="807.09" stroke="#3a3a3a" stroke-width="1.0"/>
<text x="28.4" y="809.79" font-size="7.7" text-anchor="end" fill="#000000" >0.6</text>
<line x1="33.6" y1="775.62" x2="30.4" y2="775.62" stroke="#3a3a3a" stroke-width="1.0"/>
<text x="28.4" y="778.32" font-size="7.7" text-anchor="end" fill="#000000" >0.7</text>
<line x1="33.6" y1="744.15" x2="30.4" y2="744.15" stroke="#3a3a3a" stroke-width="1.0"/>
<text x="28.4" y="746.85" font-size="7.7" text-anchor="end" fill="#000000" >0.8</text>
<line x1="33.6" y1="712.67" x2="30.4" y2="712.67" stroke="#3a3a3a" stroke-width="1.0"/>
<text x="28.4" y="715.37" font-size="7.7" text-anchor="end" fill="#000000" >0.9</text>
<line x1="33.6" y1="681.2" x2="30.4" y2="681.2" stroke="#3a3a3a" stroke-width="1.0"/>
<text x="28.4" y="683.9" font-size="7.7" text-anchor="end" fill="#000000" >1.0</text>
<line x1="33.6" y1="854.3" x2="31.6" y2="854.3" stroke="#3a3a3a" stroke-width="1.0"/>
<line x1="33.6" y1="822.83" x2="31.6" y2="822.83" stroke="#3a3a3a" stroke-width="1.0"/>
<line x1="33.6" y1="791.35" x2="31.6" y2="791.35" stroke="#3a3a3a" stroke-width="1.0"/>
<line x1="33.6" y1="759.88" x2="31.6" y2="759.88" stroke="#3a3a3a" stroke-width="1.0"/>
<line x1="33.6" y1="728.41" x2="31.6" y2="728.41" stroke="#3a3a3a" stroke-width="1.0"/>
<line x1="33.6" y1="696.94" x2="31.6" y2="696.94" stroke="#3a3a3a" stroke-width="1.0"/>
<text x="7.7" y="773" font-size="9.2" text-anchor="middle" fill="#000000" transform="rotate(-90 7.7 773)">absorption (a.u.)</text>
<text x="150.8" y="879.9" font-size="9.2" text-anchor="middle" fill="#000000" >wavelength (nm)</text>
<text x="342.6" y="674.2" font-size="16.3" text-anchor="start" fill="#000000" >h)</text>
<path d="M337.8,837.54 L338.5,836.99 L339.2,836.45 L339.9,835.91 L340.6,835.35 L341.3,834.79 L342,834.22 L342.7,833.63 L343.4,833.03 L344.1,832.43 L344.8,831.82 L345.5,831.21 L346.2,830.6 L346.9,829.99 L347.6,829.39 L348.3,828.79 L349,828.2 L349.7,827.62 L350.4,827.05 L351.1,826.49 L351.8,825.93 L352.5,825.38 L353.2,824.84 L353.9,824.3 L354.6,823.76 L355.3,823.23 L356,822.71 L356.7,822.19 L357.4,821.67 L358.1,821.16 L358.8,820.65 L359.5,820.15 L360.2,819.66 L360.9,819.17 L361.6,818.68 L362.3,818.2 L363,817.72 L363.7,817.24 L364.4,816.76 L365.1,816.29 L365.8,815.81 L366.5,815.34 L367.2,814.88 L367.9,814.41 L368.6,813.96 L369.3,813.51 L370,813.06 L370.7,812.61 L371.4,812.18 L372.1,811.76 L372.8,811.37 L373.5,811 L374.2,810.66 L374.9,810.35 L375.6,810.06 L376.3,809.8 L377,809.57 L377.7,809.35 L378.4,809.15 L379.1,808.97 L379.8,808.8 L380.5,808.64 L381.2,808.48 L381.9,808.33 L382.6,808.18 L383.3,808.03 L384,807.88 L384.7,807.74 L385.4,807.61 L386.1,807.49 L386.8,807.38 L387.5,807.27 L388.2,807.16 L388.9,807.05 L389.6,806.94 L390.3,806.83 L391,806.71 L391.7,806.59 L392.4,806.45 L393.1,806.31 L393.8,806.16 L394.5,806.01 L395.2,805.85 L395.9,805.68 L396.6,805.51 L397.3,805.32 L398,805.13 L398.7,804.93 L399.4,804.72 L400.1,804.5 L400.8,804.28 L401.5,804.03 L402.2,803.78 L402.9,803.52 L403.6,803.25 L404.3,802.96 L405,802.67 L405.7,802.36 L406.4,802.03 L407.1,801.69 L407.8,801.35 L408.5,801.01 L409.2,800.65 L409.9,800.3 L410.6,799.93 L411.3,799.56 L412,799.18 L412.7,798.8 L413.4,798.42 L414.1,798.04 L414.8,797.65 L415.5,797.27 L416.2,796.89 L416.9,796.51 L417.6,796.13 L418.3,795.76 L419,795.39 L419.7,795.03 L420.4,794.66 L421.1,794.3 L421.8,793.93 L422.5,793.57 L423.2,793.22 L423.9,792.87 L424.6,792.52 L425.3,792.19 L426,791.87 L426.7,791.55 L427.4,791.26 L428.1,790.97 L428.8,790.7 L429.5,790.43 L430.2,790.18 L430.9,789.93 L431.6,789.7 L432.3,789.49 L433,789.29 L433.7,789.1 L434.4,788.94 L435.1,788.79 L435.8,788.66 L436.5,788.55 L437.2,788.47 L437.9,788.4 L438.6,788.36 L439.3,788.33 L440,788.32 L440.7,788.32 L441.4,788.33 L442.1,788.35 L442.8,788.38 L443.5,788.41 L444.2,788.43 L444.9,788.32 L445.6,788.23 L446.3,788.21 L447,788.18 L447.7,788.15 L448.4,788.11 L449.1,788.07 L449.8,788.01 L450.5,787.95 L451.2,787.88 L451.9,787.79 L452.6,787.69 L453.3,787.58 L454,787.46 L454.7,787.32 L455.4,787.17 L456.1,787 L456.8,786.81 L457.5,786.61 L458.2,786.41 L458.9,786.2 L459.6,786 L460.3,785.8 L461,785.61 L461.7,785.43 L462.4,785.27 L463.1,785.14 L463.8,785.03 L464.5,784.94 L465.2,784.87 L465.9,784.81 L466.6,784.77 L467.3,784.73 L468,784.69 L468.7,784.65 L469.4,784.61 L470.1,784.57 L470.8,784.54 L471.5,784.54 L472.2,784.55 L472.9,784.56 L473.6,784.58 L474.3,784.58 L475,784.56 L475.7,784.52 L476.4,784.44 L477.1,784.3 L477.8,784.09 L478.5,783.84 L479.2,783.53 L479.9,783.16 L480.6,782.77 L481.3,782.36 L482,781.93 L482.7,781.52 L483.4,781.13 L484.1,780.78 L484.8,780.48 L485.5,780.22 L486.2,779.98 L486.9,779.78 L487.6,779.66 L488.3,779.59 L489,779.54 L489.7,779.52 L490.4,779.51 L491.1,779.52 L491.8,779.55 L492.5,779.59 L493.2,779.64 L493.9,779.69 L494.6,779.76 L495.3,779.82 L496,779.89 L496.7,779.96 L497.4,780.02 L498.1,780.09 L498.8,780.15 L499.5,780.21 L500.2,780.25 L500.9,780.25 L501.6,780.22 L502.3,780.2 L503,780.14 L503.7,780.07 L504.4,779.98 L505.1,779.86 L505.8,779.73 L506.5,779.57 L507.2,779.4 L507.9,779.2 L508.6,779 L509.3,778.77 L510,778.53 L510.7,778.26 L511.4,777.99 L512.1,777.69 L512.8,777.38 L513.5,777.04 L514.2,776.7 L514.9,776.32 L515.6,775.94 L516.3,775.5 L517,775.03 L517.7,774.52 L518.4,773.97 L519.1,773.39 L519.8,772.78 L520.5,772.16 L521.2,771.52 L521.9,770.89 L522.6,770.25 L523.3,769.65 L524,769.11 L524.7,768.65 L525.4,768.39 L526.1,768.47 L526.8,768.74 L527.5,769.01 L528.2,768.82 L528.9,768.23 L529.6,767.28 L530.3,765.94 L531,764.3 L531.7,762.24 L532.4,759.94 L533.1,757.76 L533.8,755.97 L534.5,754.79 L535.2,754.44 L535.9,754.71 L536.6,755.35 L537.3,756.05 L538,756.62 L538.7,757.13 L539.4,757.69 L540.1,758.27 L540.8,758.84 L541.5,759.39 L542.2,759.88 L542.9,760.29 L543.6,760.61 L544.3,760.85 L545,761.02 L545.7,761.15 L546.4,761.23 L547.1,761.29 L547.8,761.34 L548.5,761.34 L549.2,761.28 L549.9,761.17 L550.6,761.03 L551.3,760.85 L552,760.66 L552.7,760.44 L553.4,760.2 L554.1,759.96 L554.8,759.71 L555.5,759.46 L556.2,759.2 L556.9,758.95 L557.6,758.71 L558.3,758.46 L559,758.21 L559.7,757.95 L560.4,757.68 L561.1,757.4 L561.8,757.09 L562.5,756.74 L563.2,756.35 L563.9,755.87 L564.6,755.26 L565.3,754.51 L566,753.67 L566.7,752.88 L567.4,752.25 L568.1,751.78 L568.8,751.41 L569.5,751.1 L570.2,750.82 L570.9,750.57 L571.6,750.33 L572.3,750.08" fill="none" stroke="#b4b4b4" stroke-width="1.5" stroke-linejoin="round" stroke-linecap="round" />
<path d="M337.8,838.66 L338.5,838.19 L339.2,837.72 L339.9,837.24 L340.6,836.76 L341.3,836.27 L342,835.77 L342.7,835.26 L343.4,834.74 L344.1,834.22 L344.8,833.69 L345.5,833.16 L346.2,832.63 L346.9,832.1 L347.6,831.57 L348.3,831.04 L349,830.52 L349.7,830.01 L350.4,829.5 L351.1,829.01 L351.8,828.51 L352.5,828.02 L353.2,827.54 L353.9,827.06 L354.6,826.58 L355.3,826.11 L356,825.64 L356.7,825.17 L357.4,824.7 L358.1,824.24 L358.8,823.78 L359.5,823.32 L360.2,822.87 L360.9,822.41 L361.6,821.96 L362.3,821.51 L363,821.06 L363.7,820.61 L364.4,820.14 L365.1,819.69 L365.8,819.22 L366.5,818.76 L367.2,818.3 L367.9,817.83 L368.6,817.38 L369.3,816.92 L370,816.46 L370.7,816.01 L371.4,815.56 L372.1,815.13 L372.8,814.72 L373.5,814.32 L374.2,813.96 L374.9,813.61 L375.6,813.28 L376.3,812.99 L377,812.71 L377.7,812.45 L378.4,812.2 L379.1,811.97 L379.8,811.74 L380.5,811.52 L381.2,811.31 L381.9,811.1 L382.6,810.89 L383.3,810.68 L384,810.48 L384.7,810.28 L385.4,810.1 L386.1,809.92 L386.8,809.74 L387.5,809.57 L388.2,809.4 L388.9,809.23 L389.6,809.07 L390.3,808.9 L391,808.73 L391.7,808.55 L392.4,808.37 L393.1,808.18 L393.8,807.99 L394.5,807.8 L395.2,807.6 L395.9,807.4 L396.6,807.19 L397.3,806.98 L398,806.76 L398.7,806.53 L399.4,806.29 L400.1,806.05 L400.8,805.8 L401.5,805.54 L402.2,805.27 L402.9,804.98 L403.6,804.69 L404.3,804.38 L405,804.07 L405.7,803.74 L406.4,803.39 L407.1,803.03 L407.8,802.66 L408.5,802.3 L409.2,801.93 L409.9,801.56 L410.6,801.18 L411.3,800.8 L412,800.42 L412.7,800.04 L413.4,799.65 L414.1,799.26 L414.8,798.87 L415.5,798.49 L416.2,798.1 L416.9,797.71 L417.6,797.33 L418.3,796.95 L419,796.58 L419.7,796.2 L420.4,795.83 L421.1,795.45 L421.8,795.08 L422.5,794.71 L423.2,794.34 L423.9,793.97 L424.6,793.61 L425.3,793.25 L426,792.9 L426.7,792.56 L427.4,792.23 L428.1,791.91 L428.8,791.59 L429.5,791.29 L430.2,790.99 L430.9,790.7 L431.6,790.42 L432.3,790.15 L433,789.9 L433.7,789.65 L434.4,789.43 L435.1,789.22 L435.8,789.02 L436.5,788.84 L437.2,788.67 L437.9,788.53 L438.6,788.4 L439.3,788.29 L440,788.19 L440.7,788.1 L441.4,788.02 L442.1,787.96 L442.8,787.91 L443.5,787.85 L444.2,787.78 L444.9,787.48 L445.6,787.24 L446.3,787.11 L447,786.98 L447.7,786.86 L448.4,786.73 L449.1,786.6 L449.8,786.47 L450.5,786.33 L451.2,786.18 L451.9,786.03 L452.6,785.87 L453.3,785.7 L454,785.53 L454.7,785.34 L455.4,785.14 L456.1,784.94 L456.8,784.72 L457.5,784.5 L458.2,784.27 L458.9,784.04 L459.6,783.81 L460.3,783.59 L461,783.38 L461.7,783.18 L462.4,783 L463.1,782.84 L463.8,782.7 L464.5,782.58 L465.2,782.48 L465.9,782.39 L466.6,782.31 L467.3,782.23 L468,782.16 L468.7,782.09 L469.4,782.01 L470.1,781.94 L470.8,781.88 L471.5,781.84 L472.2,781.81 L472.9,781.79 L473.6,781.77 L474.3,781.74 L475,781.69 L475.7,781.62 L476.4,781.51 L477.1,781.36 L477.8,781.15 L478.5,780.88 L479.2,780.58 L479.9,780.22 L480.6,779.83 L481.3,779.42 L482,779 L482.7,778.59 L483.4,778.2 L484.1,777.84 L484.8,777.55 L485.5,777.29 L486.2,777.05 L486.9,776.85 L487.6,776.72 L488.3,776.64 L489,776.58 L489.7,776.55 L490.4,776.53 L491.1,776.53 L491.8,776.56 L492.5,776.59 L493.2,776.63 L493.9,776.69 L494.6,776.75 L495.3,776.81 L496,776.88 L496.7,776.95 L497.4,777.02 L498.1,777.09 L498.8,777.17 L499.5,777.24 L500.2,777.28 L500.9,777.23 L501.6,777.16 L502.3,777.1 L503,777 L503.7,776.88 L504.4,776.75 L505.1,776.59 L505.8,776.41 L506.5,776.21 L507.2,776 L507.9,775.75 L508.6,775.5 L509.3,775.22 L510,774.94 L510.7,774.62 L511.4,774.3 L512.1,773.95 L512.8,773.6 L513.5,773.21 L514.2,772.82 L514.9,772.41 L515.6,771.97 L516.3,771.5 L517,770.99 L517.7,770.45 L518.4,769.87 L519.1,769.26 L519.8,768.61 L520.5,767.95 L521.2,767.27 L521.9,766.59 L522.6,765.9 L523.3,765.26 L524,764.66 L524.7,764.18 L525.4,763.92 L526.1,764.1 L526.8,764.4 L527.5,764.63 L528.2,764.45 L528.9,763.84 L529.6,762.83 L530.3,761.31 L531,759.44 L531.7,757.18 L532.4,754.82 L533.1,752.69 L533.8,751 L534.5,749.92 L535.2,749.59 L535.9,749.85 L536.6,750.46 L537.3,751.12 L538,751.67 L538.7,752.16 L539.4,752.7 L540.1,753.26 L540.8,753.81 L541.5,754.32 L542.2,754.76 L542.9,755.1 L543.6,755.34 L544.3,755.5 L545,755.6 L545.7,755.65 L546.4,755.68 L547.1,755.73 L547.8,755.8 L548.5,755.82 L549.2,755.74 L549.9,755.61 L550.6,755.44 L551.3,755.24 L552,755.02 L552.7,754.78 L553.4,754.52 L554.1,754.26 L554.8,753.98 L555.5,753.71 L556.2,753.43 L556.9,753.15 L557.6,752.88 L558.3,752.6 L559,752.32 L559.7,752.03 L560.4,751.73 L561.1,751.41 L561.8,751.07 L562.5,750.69 L563.2,750.27 L563.9,749.77 L564.6,749.13 L565.3,748.33 L566,747.46 L566.7,746.67 L567.4,746.03 L568.1,745.54 L568.8,745.15 L569.5,744.8 L570.2,744.49 L570.9,744.2 L571.6,743.93 L572.3,743.64" fill="none" stroke="#b4b4b4" stroke-width="1.5" stroke-linejoin="round" stroke-linecap="round" />
<path d="M337.8,839.64 L338.5,839.23 L339.2,838.82 L339.9,838.41 L340.6,837.99 L341.3,837.56 L342,837.13 L342.7,836.68 L343.4,836.23 L344.1,835.78 L344.8,835.32 L345.5,834.86 L346.2,834.4 L346.9,833.94 L347.6,833.48 L348.3,833.02 L349,832.56 L349.7,832.1 L350.4,831.65 L351.1,831.21 L351.8,830.77 L352.5,830.33 L353.2,829.9 L353.9,829.47 L354.6,829.05 L355.3,828.62 L356,828.2 L356.7,827.78 L357.4,827.36 L358.1,826.94 L358.8,826.52 L359.5,826.1 L360.2,825.68 L360.9,825.26 L361.6,824.84 L362.3,824.41 L363,823.98 L363.7,823.55 L364.4,823.1 L365.1,822.66 L365.8,822.2 L366.5,821.75 L367.2,821.29 L367.9,820.82 L368.6,820.37 L369.3,819.9 L370,819.44 L370.7,818.98 L371.4,818.52 L372.1,818.08 L372.8,817.65 L373.5,817.23 L374.2,816.84 L374.9,816.46 L375.6,816.11 L376.3,815.77 L377,815.46 L377.7,815.16 L378.4,814.87 L379.1,814.59 L379.8,814.31 L380.5,814.05 L381.2,813.78 L381.9,813.52 L382.6,813.26 L383.3,813.01 L384,812.75 L384.7,812.51 L385.4,812.27 L386.1,812.04 L386.8,811.81 L387.5,811.58 L388.2,811.36 L388.9,811.14 L389.6,810.93 L390.3,810.71 L391,810.49 L391.7,810.27 L392.4,810.05 L393.1,809.83 L393.8,809.6 L394.5,809.37 L395.2,809.14 L395.9,808.91 L396.6,808.67 L397.3,808.43 L398,808.18 L398.7,807.93 L399.4,807.67 L400.1,807.4 L400.8,807.13 L401.5,806.85 L402.2,806.56 L402.9,806.26 L403.6,805.95 L404.3,805.63 L405,805.29 L405.7,804.94 L406.4,804.58 L407.1,804.19 L407.8,803.81 L408.5,803.43 L409.2,803.05 L409.9,802.66 L410.6,802.28 L411.3,801.89 L412,801.5 L412.7,801.11 L413.4,800.72 L414.1,800.33 L414.8,799.94 L415.5,799.55 L416.2,799.16 L416.9,798.77 L417.6,798.38 L418.3,797.99 L419,797.61 L419.7,797.23 L420.4,796.84 L421.1,796.46 L421.8,796.07 L422.5,795.69 L423.2,795.3 L423.9,794.92 L424.6,794.54 L425.3,794.16 L426,793.78 L426.7,793.41 L427.4,793.05 L428.1,792.69 L428.8,792.34 L429.5,791.99 L430.2,791.65 L430.9,791.32 L431.6,790.99 L432.3,790.67 L433,790.36 L433.7,790.05 L434.4,789.76 L435.1,789.49 L435.8,789.22 L436.5,788.97 L437.2,788.72 L437.9,788.5 L438.6,788.29 L439.3,788.09 L440,787.9 L440.7,787.72 L441.4,787.56 L442.1,787.41 L442.8,787.27 L443.5,787.13 L444.2,786.96 L444.9,786.49 L445.6,786.1 L446.3,785.87 L447,785.64 L447.7,785.43 L448.4,785.21 L449.1,785 L449.8,784.78 L450.5,784.57 L451.2,784.35 L451.9,784.13 L452.6,783.92 L453.3,783.69 L454,783.47 L454.7,783.24 L455.4,783 L456.1,782.77 L456.8,782.52 L457.5,782.27 L458.2,782.02 L458.9,781.78 L459.6,781.53 L460.3,781.29 L461,781.07 L461.7,780.85 L462.4,780.65 L463.1,780.47 L463.8,780.3 L464.5,780.16 L465.2,780.02 L465.9,779.9 L466.6,779.79 L467.3,779.68 L468,779.57 L468.7,779.47 L469.4,779.36 L470.1,779.25 L470.8,779.15 L471.5,779.07 L472.2,779 L472.9,778.94 L473.6,778.87 L474.3,778.8 L475,778.71 L475.7,778.59 L476.4,778.46 L477.1,778.27 L477.8,778.04 L478.5,777.77 L479.2,777.45 L479.9,777.08 L480.6,776.69 L481.3,776.27 L482,775.84 L482.7,775.41 L483.4,775 L484.1,774.64 L484.8,774.32 L485.5,774.05 L486.2,773.79 L486.9,773.57 L487.6,773.42 L488.3,773.31 L489,773.23 L489.7,773.17 L490.4,773.12 L491.1,773.1 L491.8,773.09 L492.5,773.09 L493.2,773.11 L493.9,773.14 L494.6,773.17 L495.3,773.21 L496,773.25 L496.7,773.3 L497.4,773.35 L498.1,773.41 L498.8,773.48 L499.5,773.54 L500.2,773.57 L500.9,773.49 L501.6,773.39 L502.3,773.3 L503,773.17 L503.7,773.03 L504.4,772.87 L505.1,772.68 L505.8,772.48 L506.5,772.24 L507.2,772 L507.9,771.73 L508.6,771.44 L509.3,771.13 L510,770.81 L510.7,770.47 L511.4,770.12 L512.1,769.74 L512.8,769.35 L513.5,768.94 L514.2,768.53 L514.9,768.08 L515.6,767.63 L516.3,767.13 L517,766.61 L517.7,766.05 L518.4,765.46 L519.1,764.84 L519.8,764.18 L520.5,763.5 L521.2,762.79 L521.9,762.08 L522.6,761.37 L523.3,760.69 L524,760.07 L524.7,759.58 L525.4,759.34 L526.1,759.64 L526.8,759.99 L527.5,760.21 L528.2,760.05 L528.9,759.45 L529.6,758.4 L530.3,756.72 L531,754.64 L531.7,752.21 L532.4,749.8 L533.1,747.74 L533.8,746.18 L534.5,745.21 L535.2,744.92 L535.9,745.19 L536.6,745.79 L537.3,746.44 L538,746.98 L538.7,747.48 L539.4,748.02 L540.1,748.58 L540.8,749.12 L541.5,749.61 L542.2,750.02 L542.9,750.32 L543.6,750.51 L544.3,750.61 L545,750.66 L545.7,750.67 L546.4,750.67 L547.1,750.72 L547.8,750.84 L548.5,750.88 L549.2,750.81 L549.9,750.68 L550.6,750.5 L551.3,750.3 L552,750.07 L552.7,749.83 L553.4,749.57 L554.1,749.3 L554.8,749.03 L555.5,748.74 L556.2,748.46 L556.9,748.18 L557.6,747.89 L558.3,747.61 L559,747.32 L559.7,747.02 L560.4,746.7 L561.1,746.38 L561.8,746.02 L562.5,745.64 L563.2,745.21 L563.9,744.7 L564.6,744.05 L565.3,743.23 L566,742.36 L566.7,741.57 L567.4,740.95 L568.1,740.46 L568.8,740.06 L569.5,739.71 L570.2,739.38 L570.9,739.08 L571.6,738.79 L572.3,738.48" fill="none" stroke="#b4b4b4" stroke-width="1.5" stroke-linejoin="round" stroke-linecap="round" />
<path d="M337.8,840.69 L338.5,840.34 L339.2,840 L339.9,839.66 L340.6,839.31 L341.3,838.95 L342,838.58 L342.7,838.21 L343.4,837.83 L344.1,837.45 L344.8,837.07 L345.5,836.69 L346.2,836.3 L346.9,835.91 L347.6,835.52 L348.3,835.13 L349,834.74 L349.7,834.35 L350.4,833.96 L351.1,833.57 L351.8,833.19 L352.5,832.81 L353.2,832.44 L353.9,832.06 L354.6,831.69 L355.3,831.32 L356,830.95 L356.7,830.58 L357.4,830.2 L358.1,829.83 L358.8,829.45 L359.5,829.07 L360.2,828.69 L360.9,828.3 L361.6,827.91 L362.3,827.51 L363,827.11 L363.7,826.7 L364.4,826.27 L365.1,825.84 L365.8,825.39 L366.5,824.95 L367.2,824.49 L367.9,824.03 L368.6,823.57 L369.3,823.1 L370,822.63 L370.7,822.16 L371.4,821.7 L372.1,821.24 L372.8,820.79 L373.5,820.35 L374.2,819.93 L374.9,819.52 L375.6,819.13 L376.3,818.76 L377,818.4 L377.7,818.06 L378.4,817.72 L379.1,817.39 L379.8,817.07 L380.5,816.75 L381.2,816.43 L381.9,816.12 L382.6,815.81 L383.3,815.5 L384,815.19 L384.7,814.89 L385.4,814.6 L386.1,814.31 L386.8,814.02 L387.5,813.74 L388.2,813.46 L388.9,813.19 L389.6,812.92 L390.3,812.65 L391,812.38 L391.7,812.11 L392.4,811.85 L393.1,811.58 L393.8,811.32 L394.5,811.05 L395.2,810.78 L395.9,810.52 L396.6,810.25 L397.3,809.98 L398,809.7 L398.7,809.43 L399.4,809.14 L400.1,808.85 L400.8,808.56 L401.5,808.26 L402.2,807.95 L402.9,807.63 L403.6,807.3 L404.3,806.96 L405,806.61 L405.7,806.24 L406.4,805.85 L407.1,805.45 L407.8,805.04 L408.5,804.64 L409.2,804.24 L409.9,803.85 L410.6,803.45 L411.3,803.06 L412,802.66 L412.7,802.27 L413.4,801.87 L414.1,801.48 L414.8,801.08 L415.5,800.69 L416.2,800.29 L416.9,799.9 L417.6,799.5 L418.3,799.11 L419,798.72 L419.7,798.33 L420.4,797.93 L421.1,797.54 L421.8,797.14 L422.5,796.74 L423.2,796.34 L423.9,795.94 L424.6,795.54 L425.3,795.14 L426,794.73 L426.7,794.33 L427.4,793.94 L428.1,793.54 L428.8,793.15 L429.5,792.76 L430.2,792.37 L430.9,791.99 L431.6,791.61 L432.3,791.23 L433,790.86 L433.7,790.5 L434.4,790.14 L435.1,789.8 L435.8,789.46 L436.5,789.13 L437.2,788.81 L437.9,788.49 L438.6,788.19 L439.3,787.91 L440,787.63 L440.7,787.36 L441.4,787.1 L442.1,786.86 L442.8,786.63 L443.5,786.41 L444.2,786.14 L444.9,785.47 L445.6,784.91 L446.3,784.55 L447,784.22 L447.7,783.89 L448.4,783.56 L449.1,783.25 L449.8,782.93 L450.5,782.62 L451.2,782.31 L451.9,782 L452.6,781.69 L453.3,781.39 L454,781.09 L454.7,780.78 L455.4,780.49 L456.1,780.19 L456.8,779.88 L457.5,779.58 L458.2,779.28 L458.9,778.98 L459.6,778.69 L460.3,778.4 L461,778.12 L461.7,777.84 L462.4,777.58 L463.1,777.33 L463.8,777.1 L464.5,776.87 L465.2,776.65 L465.9,776.45 L466.6,776.24 L467.3,776.04 L468,775.85 L468.7,775.64 L469.4,775.44 L470.1,775.23 L470.8,775.03 L471.5,774.84 L472.2,774.66 L472.9,774.48 L473.6,774.29 L474.3,774.1 L475,773.9 L475.7,773.68 L476.4,773.43 L477.1,773.16 L477.8,772.84 L478.5,772.49 L479.2,772.11 L479.9,771.68 L480.6,771.22 L481.3,770.74 L482,770.24 L482.7,769.74 L483.4,769.25 L484.1,768.81 L484.8,768.42 L485.5,768.06 L486.2,767.72 L486.9,767.41 L487.6,767.16 L488.3,766.94 L489,766.75 L489.7,766.58 L490.4,766.43 L491.1,766.29 L491.8,766.17 L492.5,766.06 L493.2,765.96 L493.9,765.87 L494.6,765.79 L495.3,765.72 L496,765.66 L496.7,765.6 L497.4,765.55 L498.1,765.51 L498.8,765.48 L499.5,765.45 L500.2,765.41 L500.9,765.31 L501.6,765.2 L502.3,765.09 L503,764.95 L503.7,764.79 L504.4,764.62 L505.1,764.42 L505.8,764.21 L506.5,763.96 L507.2,763.7 L507.9,763.4 L508.6,763.1 L509.3,762.77 L510,762.43 L510.7,762.07 L511.4,761.71 L512.1,761.31 L512.8,760.92 L513.5,760.5 L514.2,760.08 L514.9,759.63 L515.6,759.18 L516.3,758.69 L517,758.19 L517.7,757.65 L518.4,757.08 L519.1,756.48 L519.8,755.84 L520.5,755.17 L521.2,754.47 L521.9,753.75 L522.6,753.04 L523.3,752.35 L524,751.74 L524.7,751.27 L525.4,751.12 L526.1,751.69 L526.8,752.18 L527.5,752.42 L528.2,752.33 L528.9,751.81 L529.6,750.71 L530.3,748.83 L531,746.42 L531.7,743.76 L532.4,741.31 L533.1,739.44 L533.8,738.13 L534.5,737.39 L535.2,737.21 L535.9,737.54 L536.6,738.17 L537.3,738.85 L538,739.43 L538.7,739.98 L539.4,740.57 L540.1,741.17 L540.8,741.74 L541.5,742.25 L542.2,742.67 L542.9,742.94 L543.6,743.09 L544.3,743.16 L545,743.17 L545.7,743.16 L546.4,743.17 L547.1,743.27 L547.8,743.5 L548.5,743.63 L549.2,743.62 L549.9,743.53 L550.6,743.39 L551.3,743.22 L552,743.04 L552.7,742.83 L553.4,742.62 L554.1,742.39 L554.8,742.15 L555.5,741.91 L556.2,741.67 L556.9,741.42 L557.6,741.17 L558.3,740.92 L559,740.65 L559.7,740.38 L560.4,740.1 L561.1,739.8 L561.8,739.48 L562.5,739.13 L563.2,738.74 L563.9,738.26 L564.6,737.64 L565.3,736.85 L566,736 L566.7,735.27 L567.4,734.7 L568.1,734.26 L568.8,733.9 L569.5,733.58 L570.2,733.28 L570.9,733 L571.6,732.73 L572.3,732.45" fill="none" stroke="#b4b4b4" stroke-width="1.5" stroke-linejoin="round" stroke-linecap="round" />
<path d="M337.8,841.67 L338.5,841.39 L339.2,841.11 L339.9,840.83 L340.6,840.54 L341.3,840.25 L342,839.95 L342.7,839.64 L343.4,839.34 L344.1,839.03 L344.8,838.72 L345.5,838.41 L346.2,838.1 L346.9,837.78 L347.6,837.46 L348.3,837.14 L349,836.81 L349.7,836.48 L350.4,836.15 L351.1,835.82 L351.8,835.49 L352.5,835.17 L353.2,834.85 L353.9,834.54 L354.6,834.22 L355.3,833.9 L356,833.58 L356.7,833.26 L357.4,832.93 L358.1,832.6 L358.8,832.27 L359.5,831.93 L360.2,831.59 L360.9,831.24 L361.6,830.88 L362.3,830.51 L363,830.13 L363.7,829.75 L364.4,829.34 L365.1,828.93 L365.8,828.49 L366.5,828.06 L367.2,827.61 L367.9,827.15 L368.6,826.69 L369.3,826.22 L370,825.75 L370.7,825.27 L371.4,824.8 L372.1,824.33 L372.8,823.87 L373.5,823.41 L374.2,822.97 L374.9,822.53 L375.6,822.11 L376.3,821.7 L377,821.31 L377.7,820.92 L378.4,820.54 L379.1,820.17 L379.8,819.79 L380.5,819.42 L381.2,819.06 L381.9,818.69 L382.6,818.33 L383.3,817.97 L384,817.61 L384.7,817.26 L385.4,816.91 L386.1,816.57 L386.8,816.23 L387.5,815.9 L388.2,815.56 L388.9,815.24 L389.6,814.91 L390.3,814.59 L391,814.28 L391.7,813.96 L392.4,813.66 L393.1,813.35 L393.8,813.05 L394.5,812.75 L395.2,812.44 L395.9,812.15 L396.6,811.85 L397.3,811.55 L398,811.25 L398.7,810.94 L399.4,810.63 L400.1,810.32 L400.8,810.01 L401.5,809.69 L402.2,809.36 L402.9,809.02 L403.6,808.68 L404.3,808.32 L405,807.95 L405.7,807.56 L406.4,807.15 L407.1,806.73 L407.8,806.3 L408.5,805.88 L409.2,805.47 L409.9,805.06 L410.6,804.66 L411.3,804.26 L412,803.86 L412.7,803.46 L413.4,803.06 L414.1,802.66 L414.8,802.27 L415.5,801.87 L416.2,801.47 L416.9,801.07 L417.6,800.67 L418.3,800.27 L419,799.87 L419.7,799.47 L420.4,799.07 L421.1,798.66 L421.8,798.25 L422.5,797.84 L423.2,797.43 L423.9,797.01 L424.6,796.59 L425.3,796.16 L426,795.73 L426.7,795.3 L427.4,794.87 L428.1,794.44 L428.8,794.01 L429.5,793.57 L430.2,793.14 L430.9,792.7 L431.6,792.27 L432.3,791.84 L433,791.41 L433.7,790.98 L434.4,790.56 L435.1,790.14 L435.8,789.73 L436.5,789.32 L437.2,788.92 L437.9,788.52 L438.6,788.13 L439.3,787.74 L440,787.37 L440.7,787.01 L441.4,786.65 L442.1,786.32 L442.8,785.99 L443.5,785.67 L444.2,785.3 L444.9,784.41 L445.6,783.66 L446.3,783.18 L447,782.72 L447.7,782.27 L448.4,781.82 L449.1,781.38 L449.8,780.95 L450.5,780.52 L451.2,780.1 L451.9,779.68 L452.6,779.28 L453.3,778.87 L454,778.47 L454.7,778.08 L455.4,777.69 L456.1,777.31 L456.8,776.93 L457.5,776.56 L458.2,776.18 L458.9,775.81 L459.6,775.44 L460.3,775.07 L461,774.71 L461.7,774.36 L462.4,774 L463.1,773.66 L463.8,773.32 L464.5,772.98 L465.2,772.65 L465.9,772.32 L466.6,771.99 L467.3,771.65 L468,771.32 L468.7,770.98 L469.4,770.64 L470.1,770.29 L470.8,769.95 L471.5,769.6 L472.2,769.26 L472.9,768.91 L473.6,768.56 L474.3,768.21 L475,767.84 L475.7,767.46 L476.4,767.07 L477.1,766.65 L477.8,766.21 L478.5,765.75 L479.2,765.26 L479.9,764.74 L480.6,764.18 L481.3,763.59 L482,762.98 L482.7,762.37 L483.4,761.77 L484.1,761.21 L484.8,760.69 L485.5,760.21 L486.2,759.75 L486.9,759.31 L487.6,758.91 L488.3,758.53 L489,758.18 L489.7,757.85 L490.4,757.53 L491.1,757.23 L491.8,756.94 L492.5,756.65 L493.2,756.38 L493.9,756.12 L494.6,755.88 L495.3,755.63 L496,755.4 L496.7,755.18 L497.4,754.97 L498.1,754.77 L498.8,754.61 L499.5,754.44 L500.2,754.3 L500.9,754.17 L501.6,754.05 L502.3,753.92 L503,753.77 L503.7,753.6 L504.4,753.43 L505.1,753.22 L505.8,752.99 L506.5,752.73 L507.2,752.45 L507.9,752.14 L508.6,751.82 L509.3,751.47 L510,751.12 L510.7,750.75 L511.4,750.37 L512.1,749.97 L512.8,749.57 L513.5,749.15 L514.2,748.73 L514.9,748.29 L515.6,747.84 L516.3,747.38 L517,746.9 L517.7,746.4 L518.4,745.88 L519.1,745.32 L519.8,744.71 L520.5,744.06 L521.2,743.38 L521.9,742.67 L522.6,741.95 L523.3,741.27 L524,740.67 L524.7,740.26 L525.4,740.22 L526.1,741.17 L526.8,741.85 L527.5,742.12 L528.2,742.15 L528.9,741.72 L529.6,740.59 L530.3,738.43 L531,735.61 L531.7,732.64 L532.4,730.17 L533.1,728.54 L533.8,727.57 L534.5,727.15 L535.2,727.13 L535.9,727.54 L536.6,728.22 L537.3,728.96 L538,729.6 L538.7,730.22 L539.4,730.89 L540.1,731.55 L540.8,732.18 L541.5,732.72 L542.2,733.15 L542.9,733.4 L543.6,733.52 L544.3,733.55 L545,733.53 L545.7,733.51 L546.4,733.53 L547.1,733.71 L547.8,734.1 L548.5,734.36 L549.2,734.43 L549.9,734.39 L550.6,734.32 L551.3,734.21 L552,734.09 L552.7,733.95 L553.4,733.8 L554.1,733.63 L554.8,733.46 L555.5,733.29 L556.2,733.1 L556.9,732.91 L557.6,732.71 L558.3,732.51 L559,732.3 L559.7,732.08 L560.4,731.84 L561.1,731.6 L561.8,731.33 L562.5,731.03 L563.2,730.69 L563.9,730.27 L564.6,729.7 L565.3,728.95 L566,728.15 L566.7,727.5 L567.4,727.02 L568.1,726.65 L568.8,726.34 L569.5,726.07 L570.2,725.82 L570.9,725.59 L571.6,725.36 L572.3,725.13" fill="none" stroke="#b4b4b4" stroke-width="1.5" stroke-linejoin="round" stroke-linecap="round" />
<path d="M337.8,835.85 L338.5,835.21 L339.2,834.58 L339.9,833.94 L340.6,833.31 L341.3,832.68 L342,832.03 L342.7,831.37 L343.4,830.69 L344.1,829.99 L344.8,829.28 L345.5,828.56 L346.2,827.82 L346.9,827.09 L347.6,826.36 L348.3,825.64 L349,824.91 L349.7,824.2 L350.4,823.49 L351.1,822.79 L351.8,822.09 L352.5,821.38 L353.2,820.69 L353.9,819.99 L354.6,819.29 L355.3,818.6 L356,817.9 L356.7,817.21 L357.4,816.52 L358.1,815.83 L358.8,815.15 L359.5,814.47 L360.2,813.79 L360.9,813.12 L361.6,812.44 L362.3,811.77 L363,811.1 L363.7,810.42 L364.4,809.75 L365.1,809.08 L365.8,808.42 L366.5,807.77 L367.2,807.12 L367.9,806.48 L368.6,805.86 L369.3,805.25 L370,804.64 L370.7,804.03 L371.4,803.43 L372.1,802.85 L372.8,802.31 L373.5,801.81 L374.2,801.36 L374.9,800.96 L375.6,800.6 L376.3,800.29 L377,800.01 L377.7,799.77 L378.4,799.55 L379.1,799.36 L379.8,799.19 L380.5,799.04 L381.2,798.9 L381.9,798.77 L382.6,798.66 L383.3,798.56 L384,798.48 L384.7,798.42 L385.4,798.39 L386.1,798.39 L386.8,798.41 L387.5,798.44 L388.2,798.49 L388.9,798.55 L389.6,798.61 L390.3,798.67 L391,798.73 L391.7,798.81 L392.4,798.88 L393.1,798.96 L393.8,799.03 L394.5,799.1 L395.2,799.17 L395.9,799.22 L396.6,799.25 L397.3,799.27 L398,799.28 L398.7,799.29 L399.4,799.28 L400.1,799.27 L400.8,799.23 L401.5,799.18 L402.2,799.1 L402.9,799 L403.6,798.88 L404.3,798.72 L405,798.54 L405.7,798.34 L406.4,798.12 L407.1,797.88 L407.8,797.64 L408.5,797.38 L409.2,797.12 L409.9,796.85 L410.6,796.58 L411.3,796.3 L412,796.02 L412.7,795.73 L413.4,795.43 L414.1,795.13 L414.8,794.83 L415.5,794.53 L416.2,794.23 L416.9,793.93 L417.6,793.63 L418.3,793.34 L419,793.05 L419.7,792.76 L420.4,792.47 L421.1,792.18 L421.8,791.88 L422.5,791.58 L423.2,791.27 L423.9,790.97 L424.6,790.67 L425.3,790.37 L426,790.07 L426.7,789.77 L427.4,789.48 L428.1,789.19 L428.8,788.91 L429.5,788.63 L430.2,788.35 L430.9,788.08 L431.6,787.81 L432.3,787.54 L433,787.29 L433.7,787.05 L434.4,786.81 L435.1,786.6 L435.8,786.38 L436.5,786.19 L437.2,786.02 L437.9,785.85 L438.6,785.72 L439.3,785.59 L440,785.48 L440.7,785.38 L441.4,785.3 L442.1,785.22 L442.8,785.16 L443.5,785.09 L444.2,785.04 L444.9,784.98 L445.6,784.93 L446.3,784.88 L447,784.84 L447.7,784.8 L448.4,784.77 L449.1,784.75 L449.8,784.73 L450.5,784.71 L451.2,784.7 L451.9,784.69 L452.6,784.69 L453.3,784.68 L454,784.69 L454.7,784.69 L455.4,784.7 L456.1,784.7 L456.8,784.72 L457.5,784.75 L458.2,784.79 L458.9,784.85 L459.6,784.93 L460.3,785.02 L461,785.13 L461.7,785.24 L462.4,785.37 L463.1,785.52 L463.8,785.69 L464.5,785.89 L465.2,786.09 L465.9,786.31 L466.6,786.53 L467.3,786.75 L468,786.96 L468.7,787.16 L469.4,787.34 L470.1,787.51 L470.8,787.69 L471.5,787.87 L472.2,788.06 L472.9,788.24 L473.6,788.42 L474.3,788.56 L475,788.67 L475.7,788.75 L476.4,788.78 L477.1,788.74 L477.8,788.63 L478.5,788.45 L479.2,788.22 L479.9,787.92 L480.6,787.59 L481.3,787.24 L482,786.88 L482.7,786.52 L483.4,786.18 L484.1,785.88 L484.8,785.63 L485.5,785.41 L486.2,785.21 L486.9,785.04 L487.6,784.94 L488.3,784.89 L489,784.87 L489.7,784.88 L490.4,784.9 L491.1,784.95 L491.8,785.01 L492.5,785.09 L493.2,785.18 L493.9,785.27 L494.6,785.37 L495.3,785.46 L496,785.56 L496.7,785.65 L497.4,785.73 L498.1,785.81 L498.8,785.88 L499.5,785.95 L500.2,786.02 L500.9,786.08 L501.6,786.12 L502.3,786.17 L503,786.18 L503.7,786.17 L504.4,786.14 L505.1,786.08 L505.8,786.01 L506.5,785.9 L507.2,785.78 L507.9,785.63 L508.6,785.48 L509.3,785.29 L510,785.1 L510.7,784.88 L511.4,784.65 L512.1,784.4 L512.8,784.14 L513.5,783.85 L514.2,783.57 L514.9,783.25 L515.6,782.92 L516.3,782.56 L517,782.16 L517.7,781.73 L518.4,781.27 L519.1,780.78 L519.8,780.25 L520.5,779.71 L521.2,779.15 L521.9,778.59 L522.6,778.02 L523.3,777.48 L524,776.97 L524.7,776.54 L525.4,776.24 L526.1,776.15 L526.8,776.3 L527.5,776.52 L528.2,776.39 L528.9,775.92 L529.6,775.12 L530.3,773.92 L531,772.38 L531.7,770.42 L532.4,768.3 L533.1,766.22 L533.8,764.42 L534.5,763.27 L535.2,762.95 L535.9,763.2 L536.6,763.8 L537.3,764.46 L538,765.03 L538.7,765.54 L539.4,766.07 L540.1,766.6 L540.8,767.13 L541.5,767.65 L542.2,768.14 L542.9,768.59 L543.6,768.96 L544.3,769.27 L545,769.52 L545.7,769.72 L546.4,769.85 L547.1,769.92 L547.8,769.94 L548.5,769.92 L549.2,769.86 L549.9,769.76 L550.6,769.62 L551.3,769.46 L552,769.27 L552.7,769.07 L553.4,768.87 L554.1,768.65 L554.8,768.43 L555.5,768.2 L556.2,767.98 L556.9,767.75 L557.6,767.52 L558.3,767.29 L559,767.05 L559.7,766.8 L560.4,766.54 L561.1,766.26 L561.8,765.96 L562.5,765.62 L563.2,765.25 L563.9,764.81 L564.6,764.28 L565.3,763.65 L566,762.96 L566.7,762.3 L567.4,761.75 L568.1,761.32 L568.8,760.99 L569.5,760.71 L570.2,760.46 L570.9,760.23 L571.6,760.02 L572.3,759.79" fill="none" stroke="#b4b4b4" stroke-width="1.5" stroke-linejoin="round" stroke-linecap="round" />
<path d="M337.8,835.68 L338.5,835.05 L339.2,834.42 L339.9,833.79 L340.6,833.19 L341.3,832.58 L342,831.97 L342.7,831.34 L343.4,830.68 L344.1,830 L344.8,829.29 L345.5,828.56 L346.2,827.82 L346.9,827.06 L347.6,826.31 L348.3,825.54 L349,824.78 L349.7,824.01 L350.4,823.25 L351.1,822.48 L351.8,821.71 L352.5,820.93 L353.2,820.15 L353.9,819.36 L354.6,818.57 L355.3,817.78 L356,816.98 L356.7,816.17 L357.4,815.36 L358.1,814.55 L358.8,813.73 L359.5,812.91 L360.2,812.09 L360.9,811.27 L361.6,810.44 L362.3,809.59 L363,808.74 L363.7,807.88 L364.4,807.02 L365.1,806.16 L365.8,805.31 L366.5,804.46 L367.2,803.62 L367.9,802.79 L368.6,801.98 L369.3,801.18 L370,800.38 L370.7,799.57 L371.4,798.77 L372.1,797.99 L372.8,797.25 L373.5,796.57 L374.2,795.95 L374.9,795.4 L375.6,794.9 L376.3,794.47 L377,794.09 L377.7,793.75 L378.4,793.43 L379.1,793.15 L379.8,792.9 L380.5,792.67 L381.2,792.47 L381.9,792.29 L382.6,792.13 L383.3,792 L384,791.91 L384.7,791.85 L385.4,791.85 L386.1,791.88 L386.8,791.96 L387.5,792.06 L388.2,792.2 L388.9,792.34 L389.6,792.5 L390.3,792.67 L391,792.85 L391.7,793.07 L392.4,793.31 L393.1,793.56 L393.8,793.83 L394.5,794.09 L395.2,794.34 L395.9,794.58 L396.6,794.79 L397.3,794.98 L398,795.17 L398.7,795.36 L399.4,795.54 L400.1,795.71 L400.8,795.86 L401.5,795.98 L402.2,796.06 L402.9,796.11 L403.6,796.12 L404.3,796.08 L405,796 L405.7,795.89 L406.4,795.75 L407.1,795.58 L407.8,795.41 L408.5,795.23 L409.2,795.04 L409.9,794.86 L410.6,794.68 L411.3,794.49 L412,794.3 L412.7,794.1 L413.4,793.9 L414.1,793.69 L414.8,793.48 L415.5,793.27 L416.2,793.05 L416.9,792.84 L417.6,792.63 L418.3,792.42 L419,792.22 L419.7,792.02 L420.4,791.82 L421.1,791.61 L421.8,791.39 L422.5,791.16 L423.2,790.93 L423.9,790.69 L424.6,790.45 L425.3,790.2 L426,789.95 L426.7,789.69 L427.4,789.43 L428.1,789.17 L428.8,788.91 L429.5,788.65 L430.2,788.38 L430.9,788.13 L431.6,787.87 L432.3,787.62 L433,787.38 L433.7,787.14 L434.4,786.91 L435.1,786.7 L435.8,786.48 L436.5,786.29 L437.2,786.11 L437.9,785.93 L438.6,785.79 L439.3,785.65 L440,785.53 L440.7,785.43 L441.4,785.33 L442.1,785.25 L442.8,785.18 L443.5,785.11 L444.2,785.05 L444.9,784.99 L445.6,784.94 L446.3,784.89 L447,784.85 L447.7,784.82 L448.4,784.79 L449.1,784.77 L449.8,784.75 L450.5,784.74 L451.2,784.74 L451.9,784.74 L452.6,784.74 L453.3,784.75 L454,784.77 L454.7,784.79 L455.4,784.82 L456.1,784.86 L456.8,784.93 L457.5,785.01 L458.2,785.12 L458.9,785.26 L459.6,785.43 L460.3,785.62 L461,785.82 L461.7,786.01 L462.4,786.2 L463.1,786.4 L463.8,786.63 L464.5,786.87 L465.2,787.12 L465.9,787.38 L466.6,787.64 L467.3,787.89 L468,788.14 L468.7,788.37 L469.4,788.58 L470.1,788.78 L470.8,788.97 L471.5,789.17 L472.2,789.36 L472.9,789.55 L473.6,789.72 L474.3,789.87 L475,789.99 L475.7,790.07 L476.4,790.11 L477.1,790.09 L477.8,790 L478.5,789.85 L479.2,789.65 L479.9,789.38 L480.6,789.09 L481.3,788.78 L482,788.46 L482.7,788.14 L483.4,787.84 L484.1,787.57 L484.8,787.35 L485.5,787.16 L486.2,786.98 L486.9,786.84 L487.6,786.75 L488.3,786.7 L489,786.7 L489.7,786.72 L490.4,786.76 L491.1,786.83 L491.8,786.93 L492.5,787.04 L493.2,787.15 L493.9,787.28 L494.6,787.4 L495.3,787.53 L496,787.66 L496.7,787.78 L497.4,787.89 L498.1,787.99 L498.8,788.08 L499.5,788.18 L500.2,788.28 L500.9,788.38 L501.6,788.47 L502.3,788.55 L503,788.61 L503.7,788.65 L504.4,788.66 L505.1,788.63 L505.8,788.59 L506.5,788.51 L507.2,788.41 L507.9,788.28 L508.6,788.13 L509.3,787.96 L510,787.78 L510.7,787.58 L511.4,787.37 L512.1,787.14 L512.8,786.91 L513.5,786.65 L514.2,786.4 L514.9,786.12 L515.6,785.83 L516.3,785.51 L517,785.18 L517.7,784.82 L518.4,784.44 L519.1,784.04 L519.8,783.59 L520.5,783.12 L521.2,782.62 L521.9,782.1 L522.6,781.57 L523.3,781.06 L524,780.58 L524.7,780.15 L525.4,779.84 L526.1,779.7 L526.8,779.76 L527.5,779.91 L528.2,779.87 L528.9,779.56 L529.6,778.86 L530.3,777.66 L531,775.98 L531.7,773.96 L532.4,771.98 L533.1,770.1 L533.8,768.42 L534.5,767.42 L535.2,767.17 L535.9,767.41 L536.6,767.95 L537.3,768.57 L538,769.14 L538.7,769.66 L539.4,770.14 L540.1,770.61 L540.8,771.09 L541.5,771.57 L542.2,772.02 L542.9,772.45 L543.6,772.83 L544.3,773.15 L545,773.43 L545.7,773.66 L546.4,773.82 L547.1,773.91 L547.8,773.94 L548.5,773.93 L549.2,773.87 L549.9,773.77 L550.6,773.64 L551.3,773.48 L552,773.31 L552.7,773.13 L553.4,772.95 L554.1,772.76 L554.8,772.57 L555.5,772.37 L556.2,772.16 L556.9,771.95 L557.6,771.73 L558.3,771.5 L559,771.26 L559.7,771.02 L560.4,770.75 L561.1,770.47 L561.8,770.16 L562.5,769.83 L563.2,769.46 L563.9,769.06 L564.6,768.6 L565.3,768.09 L566,767.56 L566.7,767.04 L567.4,766.6 L568.1,766.23 L568.8,765.93 L569.5,765.67 L570.2,765.44 L570.9,765.22 L571.6,765.02 L572.3,764.81" fill="none" stroke="#b4b4b4" stroke-width="1.5" stroke-linejoin="round" stroke-linecap="round" />
<path d="M337.8,835.5 C338.05,835.27 338.74,834.65 339.7,833.8 C340.66,832.95 343.23,830.97 345,829.1 C346.77,827.23 350.88,822.45 353,819.8 C355.12,817.15 358.78,812.21 360.9,809.2 C363.02,806.19 366.95,799.95 368.9,797.2 C370.85,794.45 373.55,790.28 375.5,788.6 C377.45,786.92 381.54,784.96 383.5,784.6 C385.46,784.24 388.43,785.19 390.2,785.9 C391.97,786.61 395.04,788.95 396.8,789.9 C398.56,790.85 401.63,792.64 403.4,793 C405.17,793.36 408.29,792.79 410.1,792.6 C411.91,792.41 415.01,791.93 417,791.6 C418.99,791.27 421.95,790.9 425,790.1 C428.05,789.3 435.93,786.29 439.9,785.6 C443.87,784.91 451.81,784.7 454.8,784.9 C457.79,785.1 460.3,786.41 462.3,787.1 C464.3,787.79 467.8,789.5 469.8,790.1 C471.8,790.7 475.31,791.71 477.3,791.6 C479.29,791.49 483.01,789.67 484.7,789.3 C486.39,788.93 488.16,788.64 490,788.8 C491.84,788.96 496.25,790.15 498.5,790.5 C500.75,790.85 504.27,791.72 506.9,791.4 C509.53,791.08 515.75,789.1 518.2,788.1 C520.65,787.1 523.79,784.55 525.3,783.9 C526.81,783.25 528.55,784.24 529.5,783.2 C530.45,782.16 531.68,777.61 532.4,776.1 C533.12,774.59 533.97,772.09 534.9,771.9 C535.83,771.71 537.85,773.85 539.4,774.7 C540.95,775.55 544.62,777.93 546.5,778.3 C548.38,778.67 551.62,777.89 553.5,777.5 C555.38,777.11 558.71,776.15 560.6,775.4 C562.49,774.65 566.13,772.57 567.7,771.9 C569.27,771.23 571.77,770.6 572.4,770.4" fill="none" stroke="#111111" stroke-width="1.8" stroke-linejoin="round" stroke-linecap="round" />
<path d="M337.8,836 C338.4,835.44 340.63,833.43 342.3,831.8 C343.97,830.17 347.99,825.93 350.3,823.8 C352.61,821.67 357.12,817.75 359.6,815.8 C362.08,813.85 366.78,810.53 368.9,809.2 C371.02,807.87 373.55,806.43 375.5,805.8 C377.45,805.17 381.19,804.75 383.5,804.5 C385.81,804.25 390.49,804.19 392.8,803.9 C395.11,803.61 398.67,802.93 400.8,802.3 C402.93,801.67 406.37,800.33 408.8,799.2 C411.23,798.07 416.45,795.12 419,793.8 C421.55,792.48 425.51,790.34 427.9,789.3 C430.29,788.26 434.5,786.59 436.9,786 C439.3,785.41 443.51,785.09 445.9,784.9 C448.29,784.71 452.61,784.64 454.8,784.6 C456.99,784.56 460.3,784.37 462.3,784.6 C464.3,784.83 467.8,785.91 469.8,786.3 C471.8,786.69 475.31,787.79 477.3,787.5 C479.29,787.21 483.01,784.67 484.7,784.1 C486.39,783.53 487.41,783.23 490,783.2 C492.59,783.17 500.71,784.27 504.1,783.9 C507.49,783.53 512.67,781.81 515.4,780.4 C518.13,778.99 522.91,774.25 524.6,773.3 C526.29,772.35 527.25,773.86 528.1,773.3 C528.95,772.74 530.15,770.94 531,769.1 C531.85,767.26 533.57,760.54 534.5,759.5 C535.43,758.46 536.77,760.5 538,761.3 C539.23,762.1 542.19,764.85 543.7,765.5 C545.21,766.15 547.61,766.39 549.3,766.2 C550.99,766.01 554.52,764.75 556.4,764.1 C558.28,763.45 561.89,762.23 563.4,761.3 C564.91,760.37 566.5,757.91 567.7,757.1 C568.9,756.29 571.77,755.45 572.4,755.2" fill="none" stroke="#ff0000" stroke-width="1.8" stroke-linejoin="round" stroke-linecap="round" />
<path d="M337.8,843 C338.4,842.83 340.63,842.22 342.3,841.7 C343.97,841.18 347.46,840.15 350.3,839.1 C353.14,838.05 360.05,835.67 363.6,833.8 C367.15,831.93 373.35,827.33 376.9,825.1 C380.45,822.87 386.67,819.05 390.2,817.1 C393.73,815.15 400.76,811.91 403.4,810.5 C406.04,809.09 407.12,808.22 410,806.5 C412.88,804.78 421.01,800.19 425,797.6 C428.99,795.01 437.31,788.9 439.9,787.1 C442.49,785.3 443.6,784.79 444.4,784.1 C445.2,783.41 444.51,783.1 445.9,781.9 C447.29,780.7 451.61,777.19 454.8,775.1 C457.99,773.01 466.6,768.19 469.8,766.2 C473,764.21 476.81,761.69 478.8,760.2 C480.79,758.71 483.21,756.17 484.7,755 C486.19,753.83 488.35,752.35 490,751.4 C491.65,750.45 494.85,748.83 497.1,747.9 C499.35,746.97 504.09,745.91 506.9,744.4 C509.71,742.89 515.84,738.49 518.2,736.6 C520.56,734.71 523.47,730.8 524.6,730.2 C525.73,729.6 526.05,731.99 526.7,732.1 C527.35,732.21 528.74,732.76 529.5,731 C530.26,729.24 531.68,720.83 532.4,718.9 C533.12,716.97 534.15,716.5 534.9,716.5 C535.65,716.5 537.03,718.14 538,718.9 C538.97,719.66 541.07,721.81 542.2,722.2 C543.33,722.59 545.55,721.72 546.5,721.8 C547.45,721.88 547.98,722.89 549.3,722.8 C550.62,722.71 554.52,721.71 556.4,721.1 C558.28,720.49 561.99,719.05 563.4,718.2 C564.81,717.35 565.8,715.5 567,714.7 C568.2,713.9 571.68,712.53 572.4,712.2" fill="none" stroke="#0000ff" stroke-width="1.8" stroke-linejoin="round" stroke-linecap="round" />
<line x1="343.3" y1="688.3" x2="360.8" y2="688.3" stroke="#0000ff" stroke-width="2.1"/>
<text x="362.8" y="691" font-size="7.9" text-anchor="start" fill="#000000" >1,06 V</text>
<line x1="343.3" y1="697.4" x2="360.8" y2="697.4" stroke="#ff0000" stroke-width="2.1"/>
<text x="362.8" y="700.1" font-size="7.9" text-anchor="start" fill="#000000" >-0,55 V</text>
<line x1="343.3" y1="706.8" x2="360.8" y2="706.8" stroke="#111111" stroke-width="2.1"/>
<text x="362.8" y="709.5" font-size="7.9" text-anchor="start" fill="#000000" >-1,54 V</text>
<line x1="395.7" y1="685.5" x2="395.7" y2="704.15" stroke="#111111" stroke-width="0.8"/>
<path d="M395.7,709.4 L393.1,701.9 L395.7,704.15 L398.3,701.9 Z" fill="#111111"/>
<line x1="397.9" y1="685.5" x2="393.5" y2="685.5" stroke="#111111" stroke-width="0.8"/>
<line x1="384.2" y1="781.3" x2="384.2" y2="769.25" stroke="#111111" stroke-width="0.8"/>
<path d="M384.2,764 L386.8,771.5 L384.2,769.25 L381.6,771.5 Z" fill="#111111"/>
<line x1="445.4" y1="758.7" x2="445.4" y2="770.65" stroke="#ff0000" stroke-width="0.8"/>
<path d="M445.4,775.9 L442.8,768.4 L445.4,770.65 L448,768.4 Z" fill="#ff0000"/>
<line x1="562.4" y1="693.5" x2="562.4" y2="705.95" stroke="#0000ff" stroke-width="0.8"/>
<path d="M562.4,711.2 L559.8,703.7 L562.4,705.95 L565,703.7 Z" fill="#0000ff"/>
<text x="569.6" y="849.9" font-size="9" text-anchor="end" fill="#000000" >Discharge</text>
<line x1="337.8" y1="680.6" x2="572.4" y2="680.6" stroke="#3a3a3a" stroke-width="1.1"/>
<line x1="337.8" y1="680.1" x2="337.8" y2="854.1" stroke="#3a3a3a" stroke-width="1.1"/>
<line x1="337.3" y1="853.6" x2="572.9" y2="853.6" stroke="#3a3a3a" stroke-width="1.1"/>
<line x1="572.4" y1="680.6" x2="572.4" y2="853.6" stroke="#3a3a3a" stroke-width="1.1"/>
<line x1="337.8" y1="853.6" x2="337.8" y2="856.8" stroke="#3a3a3a" stroke-width="1.0"/>
<text x="337.8" y="865.2" font-size="7.7" text-anchor="middle" fill="#000000" >400</text>
<line x1="376.9" y1="853.6" x2="376.9" y2="856.8" stroke="#3a3a3a" stroke-width="1.0"/>
<text x="376.9" y="865.2" font-size="7.7" text-anchor="middle" fill="#000000" >600</text>
<line x1="416" y1="853.6" x2="416" y2="856.8" stroke="#3a3a3a" stroke-width="1.0"/>
<text x="416" y="865.2" font-size="7.7" text-anchor="middle" fill="#000000" >800</text>
<line x1="455.1" y1="853.6" x2="455.1" y2="856.8" stroke="#3a3a3a" stroke-width="1.0"/>
<text x="455.1" y="865.2" font-size="7.7" text-anchor="middle" fill="#000000" >1000</text>
<line x1="494.2" y1="853.6" x2="494.2" y2="856.8" stroke="#3a3a3a" stroke-width="1.0"/>
<text x="494.2" y="865.2" font-size="7.7" text-anchor="middle" fill="#000000" >1200</text>
<line x1="533.3" y1="853.6" x2="533.3" y2="856.8" stroke="#3a3a3a" stroke-width="1.0"/>
<text x="533.3" y="865.2" font-size="7.7" text-anchor="middle" fill="#000000" >1400</text>
<line x1="572.4" y1="853.6" x2="572.4" y2="856.8" stroke="#3a3a3a" stroke-width="1.0"/>
<text x="572.4" y="865.2" font-size="7.7" text-anchor="middle" fill="#000000" >1600</text>
<line x1="357.35" y1="853.6" x2="357.35" y2="855.6" stroke="#3a3a3a" stroke-width="1.0"/>
<line x1="396.45" y1="853.6" x2="396.45" y2="855.6" stroke="#3a3a3a" stroke-width="1.0"/>
<line x1="435.55" y1="853.6" x2="435.55" y2="855.6" stroke="#3a3a3a" stroke-width="1.0"/>
<line x1="474.65" y1="853.6" x2="474.65" y2="855.6" stroke="#3a3a3a" stroke-width="1.0"/>
<line x1="513.75" y1="853.6" x2="513.75" y2="855.6" stroke="#3a3a3a" stroke-width="1.0"/>
<line x1="552.85" y1="853.6" x2="552.85" y2="855.6" stroke="#3a3a3a" stroke-width="1.0"/>
<line x1="337.8" y1="853.6" x2="334.6" y2="853.6" stroke="#3a3a3a" stroke-width="1.0"/>
<text x="332.6" y="856.3" font-size="7.7" text-anchor="end" fill="#000000" >0.04</text>
<line x1="337.8" y1="839.18" x2="334.6" y2="839.18" stroke="#3a3a3a" stroke-width="1.0"/>
<text x="332.6" y="841.88" font-size="7.7" text-anchor="end" fill="#000000" >0.06</text>
<line x1="337.8" y1="824.77" x2="334.6" y2="824.77" stroke="#3a3a3a" stroke-width="1.0"/>
<text x="332.6" y="827.47" font-size="7.7" text-anchor="end" fill="#000000" >0.08</text>
<line x1="337.8" y1="810.35" x2="334.6" y2="810.35" stroke="#3a3a3a" stroke-width="1.0"/>
<text x="332.6" y="813.05" font-size="7.7" text-anchor="end" fill="#000000" >0.10</text>
<line x1="337.8" y1="795.93" x2="334.6" y2="795.93" stroke="#3a3a3a" stroke-width="1.0"/>
<text x="332.6" y="798.63" font-size="7.7" text-anchor="end" fill="#000000" >0.12</text>
<line x1="337.8" y1="781.52" x2="334.6" y2="781.52" stroke="#3a3a3a" stroke-width="1.0"/>
<text x="332.6" y="784.22" font-size="7.7" text-anchor="end" fill="#000000" >0.14</text>
<line x1="337.8" y1="767.1" x2="334.6" y2="767.1" stroke="#3a3a3a" stroke-width="1.0"/>
<text x="332.6" y="769.8" font-size="7.7" text-anchor="end" fill="#000000" >0.16</text>
<line x1="337.8" y1="752.68" x2="334.6" y2="752.68" stroke="#3a3a3a" stroke-width="1.0"/>
<text x="332.6" y="755.38" font-size="7.7" text-anchor="end" fill="#000000" >0.18</text>
<line x1="337.8" y1="738.27" x2="334.6" y2="738.27" stroke="#3a3a3a" stroke-width="1.0"/>
<text x="332.6" y="740.97" font-size="7.7" text-anchor="end" fill="#000000" >0.20</text>
<line x1="337.8" y1="723.85" x2="334.6" y2="723.85" stroke="#3a3a3a" stroke-width="1.0"/>
<text x="332.6" y="726.55" font-size="7.7" text-anchor="end" fill="#000000" >0.22</text>
<line x1="337.8" y1="709.43" x2="334.6" y2="709.43" stroke="#3a3a3a" stroke-width="1.0"/>
<text x="332.6" y="712.13" font-size="7.7" text-anchor="end" fill="#000000" >0.24</text>
<line x1="337.8" y1="695.02" x2="334.6" y2="695.02" stroke="#3a3a3a" stroke-width="1.0"/>
<text x="332.6" y="697.72" font-size="7.7" text-anchor="end" fill="#000000" >0.26</text>
<line x1="337.8" y1="680.6" x2="334.6" y2="680.6" stroke="#3a3a3a" stroke-width="1.0"/>
<text x="332.6" y="683.3" font-size="7.7" text-anchor="end" fill="#000000" >0.28</text>
<line x1="337.8" y1="846.39" x2="335.8" y2="846.39" stroke="#3a3a3a" stroke-width="1.0"/>
<line x1="337.8" y1="831.98" x2="335.8" y2="831.98" stroke="#3a3a3a" stroke-width="1.0"/>
<line x1="337.8" y1="817.56" x2="335.8" y2="817.56" stroke="#3a3a3a" stroke-width="1.0"/>
<line x1="337.8" y1="803.14" x2="335.8" y2="803.14" stroke="#3a3a3a" stroke-width="1.0"/>
<line x1="337.8" y1="788.73" x2="335.8" y2="788.73" stroke="#3a3a3a" stroke-width="1.0"/>
<line x1="337.8" y1="774.31" x2="335.8" y2="774.31" stroke="#3a3a3a" stroke-width="1.0"/>
<line x1="337.8" y1="759.89" x2="335.8" y2="759.89" stroke="#3a3a3a" stroke-width="1.0"/>
<line x1="337.8" y1="745.48" x2="335.8" y2="745.48" stroke="#3a3a3a" stroke-width="1.0"/>
<line x1="337.8" y1="731.06" x2="335.8" y2="731.06" stroke="#3a3a3a" stroke-width="1.0"/>
<line x1="337.8" y1="716.64" x2="335.8" y2="716.64" stroke="#3a3a3a" stroke-width="1.0"/>
<line x1="337.8" y1="702.23" x2="335.8" y2="702.23" stroke="#3a3a3a" stroke-width="1.0"/>
<line x1="337.8" y1="687.81" x2="335.8" y2="687.81" stroke="#3a3a3a" stroke-width="1.0"/>
<text x="309.4" y="767" font-size="9.2" text-anchor="middle" fill="#000000" transform="rotate(-90 309.4 767)">absorption (a.u.)</text>
<text x="455.1" y="879.9" font-size="9.2" text-anchor="middle" fill="#000000" >wavelength (nm)</text>
</svg></body></html>
